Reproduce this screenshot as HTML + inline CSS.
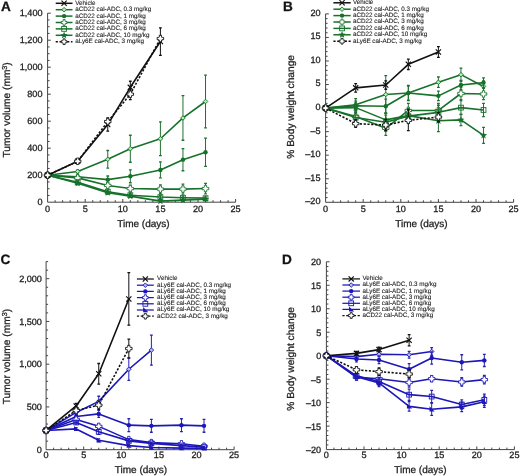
<!DOCTYPE html>
<html><head><meta charset="utf-8"><title>Figure</title>
<style>html,body{margin:0;padding:0;background:#fff;width:520px;height:476px;overflow:hidden;}svg{display:block;will-change:transform;}</style>
</head><body>
<svg width="520" height="476" viewBox="0 0 520 476" font-family='"Liberation Sans", sans-serif' fill="#222">
<style>text{stroke:#222;stroke-width:0.28px;paint-order:stroke;text-rendering:geometricPrecision;} .lg{stroke-width:0.1px;}</style>
<rect width="520" height="476" fill="#fff"/>
<path d="M47.6 13.2V202.2H235.6" stroke="#444" stroke-width="1" fill="none"/>
<path d="M55.12 202.2v-2M62.64 202.2v-2M70.16 202.2v-2M77.68 202.2v-2M85.2 202.2v-3.2M92.72 202.2v-2M100.24 202.2v-2M107.76 202.2v-2M115.28 202.2v-2M122.8 202.2v-3.2M130.32 202.2v-2M137.84 202.2v-2M145.36 202.2v-2M152.88 202.2v-2M160.4 202.2v-3.2M167.92 202.2v-2M175.44 202.2v-2M182.96 202.2v-2M190.48 202.2v-2M198 202.2v-3.2M205.52 202.2v-2M213.04 202.2v-2M220.56 202.2v-2M228.08 202.2v-2M235.6 202.2v-3.2M47.6 195.45h2M47.6 188.7h2M47.6 181.95h2M47.6 175.2h3.2M47.6 168.45h2M47.6 161.7h2M47.6 154.95h2M47.6 148.2h3.2M47.6 141.45h2M47.6 134.7h2M47.6 127.95h2M47.6 121.2h3.2M47.6 114.45h2M47.6 107.7h2M47.6 100.95h2M47.6 94.2h3.2M47.6 87.45h2M47.6 80.7h2M47.6 73.95h2M47.6 67.2h3.2M47.6 60.45h2M47.6 53.7h2M47.6 46.95h2M47.6 40.2h3.2M47.6 33.45h2M47.6 26.7h2M47.6 19.95h2M47.6 13.2h3.2" stroke="#444" stroke-width="1" fill="none"/>
<text x="47.6" y="212.1" text-anchor="middle" font-size="9.1">0</text>
<text x="85.2" y="212.1" text-anchor="middle" font-size="9.1">5</text>
<text x="122.8" y="212.1" text-anchor="middle" font-size="9.1">10</text>
<text x="160.4" y="212.1" text-anchor="middle" font-size="9.1">15</text>
<text x="198" y="212.1" text-anchor="middle" font-size="9.1">20</text>
<text x="235.6" y="212.1" text-anchor="middle" font-size="9.1">25</text>
<text x="42.5" y="205.3" text-anchor="end" font-size="9.1">0</text>
<text x="42.5" y="178.3" text-anchor="end" font-size="9.1">200</text>
<text x="42.5" y="151.3" text-anchor="end" font-size="9.1">400</text>
<text x="42.5" y="124.3" text-anchor="end" font-size="9.1">600</text>
<text x="42.5" y="97.3" text-anchor="end" font-size="9.1">800</text>
<text x="42.5" y="70.3" text-anchor="end" font-size="9.1">1,000</text>
<text x="42.5" y="43.3" text-anchor="end" font-size="9.1">1,200</text>
<text x="42.5" y="16.3" text-anchor="end" font-size="9.1">1,400</text>
<text x="1.0" y="11.0" font-size="13.6" font-weight="bold" fill="#111">A</text>
<text x="143.4" y="226.8" text-anchor="middle" font-size="10">Time (days)</text>
<text transform="translate(10.2 109.9) rotate(-90)" text-anchor="middle" font-size="10.2">Tumor volume (mm<tspan font-size="7.2" dy="-2.9">3</tspan><tspan dy="2.9">)</tspan></text>
<path d="M77.68 169.8V173.04" stroke="#22702f" stroke-width="1" fill="none"/>
<path d="M76.28 169.8H79.08M76.28 173.04H79.08" stroke="#22702f" stroke-width="1.3" fill="none"/>
<path d="M107.76 150.5V168.04" stroke="#22702f" stroke-width="1" fill="none"/>
<path d="M106.36 150.5H109.16M106.36 168.04H109.16" stroke="#22702f" stroke-width="1.3" fill="none"/>
<path d="M130.32 135.24V162.24" stroke="#22702f" stroke-width="1" fill="none"/>
<path d="M128.92 135.24H131.72M128.92 162.24H131.72" stroke="#22702f" stroke-width="1.3" fill="none"/>
<path d="M160.4 121.87V155.62" stroke="#22702f" stroke-width="1" fill="none"/>
<path d="M159 121.87H161.8M159 155.62H161.8" stroke="#22702f" stroke-width="1.3" fill="none"/>
<path d="M182.96 95.68V140.23" stroke="#22702f" stroke-width="1" fill="none"/>
<path d="M181.56 95.68H184.36M181.56 140.23H184.36" stroke="#22702f" stroke-width="1.3" fill="none"/>
<path d="M205.52 75.16V127.81" stroke="#22702f" stroke-width="1" fill="none"/>
<path d="M204.12 75.16H206.92M204.12 127.81H206.92" stroke="#22702f" stroke-width="1.3" fill="none"/>
<path d="M47.6 175.2L77.68 171.42L107.76 159.27L130.32 148.74L160.4 138.75L182.96 117.96L205.52 101.49" stroke="#16712a" stroke-width="1.6" fill="none" stroke-linejoin="round"/>
<path d="M47.6 172.9L49.9 175.2L47.6 177.5L45.3 175.2Z" fill="#b4ecb4" stroke="#16712a" stroke-width="0.9"/>
<path d="M77.68 169.12L79.98 171.42L77.68 173.72L75.38 171.42Z" fill="#b4ecb4" stroke="#16712a" stroke-width="0.9"/>
<path d="M107.76 156.97L110.06 159.27L107.76 161.57L105.46 159.27Z" fill="#b4ecb4" stroke="#16712a" stroke-width="0.9"/>
<path d="M130.32 146.44L132.62 148.74L130.32 151.04L128.02 148.74Z" fill="#b4ecb4" stroke="#16712a" stroke-width="0.9"/>
<path d="M160.4 136.45L162.7 138.75L160.4 141.05L158.1 138.75Z" fill="#b4ecb4" stroke="#16712a" stroke-width="0.9"/>
<path d="M182.96 115.66L185.26 117.96L182.96 120.26L180.66 117.96Z" fill="#b4ecb4" stroke="#16712a" stroke-width="0.9"/>
<path d="M205.52 99.19L207.82 101.49L205.52 103.79L203.22 101.49Z" fill="#b4ecb4" stroke="#16712a" stroke-width="0.9"/>
<path d="M77.68 174.79V178.84" stroke="#22702f" stroke-width="1" fill="none"/>
<path d="M76.28 174.79H79.08M76.28 178.84H79.08" stroke="#22702f" stroke-width="1.3" fill="none"/>
<path d="M107.76 176.01V183.3" stroke="#22702f" stroke-width="1" fill="none"/>
<path d="M106.36 176.01H109.16M106.36 183.3H109.16" stroke="#22702f" stroke-width="1.3" fill="none"/>
<path d="M130.32 169.8V182.76" stroke="#22702f" stroke-width="1" fill="none"/>
<path d="M128.92 169.8H131.72M128.92 182.76H131.72" stroke="#22702f" stroke-width="1.3" fill="none"/>
<path d="M160.4 161.97V177.9" stroke="#22702f" stroke-width="1" fill="none"/>
<path d="M159 161.97H161.8M159 177.9H161.8" stroke="#22702f" stroke-width="1.3" fill="none"/>
<path d="M182.96 148.6V170.75" stroke="#22702f" stroke-width="1" fill="none"/>
<path d="M181.56 148.6H184.36M181.56 170.75H184.36" stroke="#22702f" stroke-width="1.3" fill="none"/>
<path d="M205.52 138.07V166.42" stroke="#22702f" stroke-width="1" fill="none"/>
<path d="M204.12 138.07H206.92M204.12 166.42H206.92" stroke="#22702f" stroke-width="1.3" fill="none"/>
<path d="M47.6 175.2L77.68 176.82L107.76 179.65L130.32 176.28L160.4 169.94L182.96 159.67L205.52 152.25" stroke="#16712a" stroke-width="1.6" fill="none" stroke-linejoin="round"/>
<circle cx="47.6" cy="175.2" r="2.2" fill="#16712a"/>
<circle cx="77.68" cy="176.82" r="2.2" fill="#16712a"/>
<circle cx="107.76" cy="179.65" r="2.2" fill="#16712a"/>
<circle cx="130.32" cy="176.28" r="2.2" fill="#16712a"/>
<circle cx="160.4" cy="169.94" r="2.2" fill="#16712a"/>
<circle cx="182.96" cy="159.67" r="2.2" fill="#16712a"/>
<circle cx="205.52" cy="152.25" r="2.2" fill="#16712a"/>
<path d="M77.68 176.28V179.52" stroke="#22702f" stroke-width="1" fill="none"/>
<path d="M76.28 176.28H79.08M76.28 179.52H79.08" stroke="#22702f" stroke-width="1.3" fill="none"/>
<path d="M107.76 182.76V188.16" stroke="#22702f" stroke-width="1" fill="none"/>
<path d="M106.36 182.76H109.16M106.36 188.16H109.16" stroke="#22702f" stroke-width="1.3" fill="none"/>
<path d="M130.32 185.19V191.94" stroke="#22702f" stroke-width="1" fill="none"/>
<path d="M128.92 185.19H131.72M128.92 191.94H131.72" stroke="#22702f" stroke-width="1.3" fill="none"/>
<path d="M160.4 184.92V193.29" stroke="#22702f" stroke-width="1" fill="none"/>
<path d="M159 184.92H161.8M159 193.29H161.8" stroke="#22702f" stroke-width="1.3" fill="none"/>
<path d="M182.96 184.11V194.1" stroke="#22702f" stroke-width="1" fill="none"/>
<path d="M181.56 184.11H184.36M181.56 194.1H184.36" stroke="#22702f" stroke-width="1.3" fill="none"/>
<path d="M205.52 183.3V193.83" stroke="#22702f" stroke-width="1" fill="none"/>
<path d="M204.12 183.3H206.92M204.12 193.83H206.92" stroke="#22702f" stroke-width="1.3" fill="none"/>
<path d="M47.6 175.2L77.68 177.9L107.76 185.46L130.32 188.56L160.4 189.1L182.96 189.1L205.52 188.56" stroke="#16712a" stroke-width="1.6" fill="none" stroke-linejoin="round"/>
<path d="M46.45 171.95L48.75 171.95L48.75 173.5Q48.75 174.05 49.3 174.05L50.85 174.05L50.85 176.35L49.3 176.35Q48.75 176.35 48.75 176.9L48.75 178.45L46.45 178.45L46.45 176.9Q46.45 176.35 45.9 176.35L44.35 176.35L44.35 174.05L45.9 174.05Q46.45 174.05 46.45 173.5Z" fill="#fff" stroke="#16712a" stroke-width="0.9" stroke-linejoin="round"/>
<path d="M76.53 174.65L78.83 174.65L78.83 176.2Q78.83 176.75 79.38 176.75L80.93 176.75L80.93 179.05L79.38 179.05Q78.83 179.05 78.83 179.6L78.83 181.15L76.53 181.15L76.53 179.6Q76.53 179.05 75.98 179.05L74.43 179.05L74.43 176.75L75.98 176.75Q76.53 176.75 76.53 176.2Z" fill="#fff" stroke="#16712a" stroke-width="0.9" stroke-linejoin="round"/>
<path d="M106.61 182.21L108.91 182.21L108.91 183.76Q108.91 184.31 109.46 184.31L111.01 184.31L111.01 186.61L109.46 186.61Q108.91 186.61 108.91 187.16L108.91 188.71L106.61 188.71L106.61 187.16Q106.61 186.61 106.06 186.61L104.51 186.61L104.51 184.31L106.06 184.31Q106.61 184.31 106.61 183.76Z" fill="#fff" stroke="#16712a" stroke-width="0.9" stroke-linejoin="round"/>
<path d="M129.17 185.31L131.47 185.31L131.47 186.86Q131.47 187.41 132.02 187.41L133.57 187.41L133.57 189.72L132.02 189.72Q131.47 189.72 131.47 190.27L131.47 191.81L129.17 191.81L129.17 190.27Q129.17 189.72 128.62 189.72L127.07 189.72L127.07 187.41L128.62 187.41Q129.17 187.41 129.17 186.86Z" fill="#fff" stroke="#16712a" stroke-width="0.9" stroke-linejoin="round"/>
<path d="M159.25 185.85L161.55 185.85L161.55 187.4Q161.55 187.95 162.1 187.95L163.65 187.95L163.65 190.25L162.1 190.25Q161.55 190.25 161.55 190.81L161.55 192.35L159.25 192.35L159.25 190.81Q159.25 190.25 158.7 190.25L157.15 190.25L157.15 187.95L158.7 187.95Q159.25 187.95 159.25 187.4Z" fill="#fff" stroke="#16712a" stroke-width="0.9" stroke-linejoin="round"/>
<path d="M181.81 185.85L184.11 185.85L184.11 187.4Q184.11 187.95 184.66 187.95L186.21 187.95L186.21 190.25L184.66 190.25Q184.11 190.25 184.11 190.81L184.11 192.35L181.81 192.35L181.81 190.81Q181.81 190.25 181.26 190.25L179.71 190.25L179.71 187.95L181.26 187.95Q181.81 187.95 181.81 187.4Z" fill="#fff" stroke="#16712a" stroke-width="0.9" stroke-linejoin="round"/>
<path d="M204.37 185.31L206.67 185.31L206.67 186.86Q206.67 187.41 207.22 187.41L208.77 187.41L208.77 189.72L207.22 189.72Q206.67 189.72 206.67 190.27L206.67 191.81L204.37 191.81L204.37 190.27Q204.37 189.72 203.82 189.72L202.27 189.72L202.27 187.41L203.82 187.41Q204.37 187.41 204.37 186.86Z" fill="#fff" stroke="#16712a" stroke-width="0.9" stroke-linejoin="round"/>
<path d="M77.68 180.87V183.57" stroke="#22702f" stroke-width="1" fill="none"/>
<path d="M76.28 180.87H79.08M76.28 183.57H79.08" stroke="#22702f" stroke-width="1.3" fill="none"/>
<path d="M107.76 190.05V193.29" stroke="#22702f" stroke-width="1" fill="none"/>
<path d="M106.36 190.05H109.16M106.36 193.29H109.16" stroke="#22702f" stroke-width="1.3" fill="none"/>
<path d="M130.32 193.56V196.8" stroke="#22702f" stroke-width="1" fill="none"/>
<path d="M128.92 193.56H131.72M128.92 196.8H131.72" stroke="#22702f" stroke-width="1.3" fill="none"/>
<path d="M160.4 195.45V198.69" stroke="#22702f" stroke-width="1" fill="none"/>
<path d="M159 195.45H161.8M159 198.69H161.8" stroke="#22702f" stroke-width="1.3" fill="none"/>
<path d="M182.96 196.12V199.36" stroke="#22702f" stroke-width="1" fill="none"/>
<path d="M181.56 196.12H184.36M181.56 199.36H184.36" stroke="#22702f" stroke-width="1.3" fill="none"/>
<path d="M205.52 196.8V199.5" stroke="#22702f" stroke-width="1" fill="none"/>
<path d="M204.12 196.8H206.92M204.12 199.5H206.92" stroke="#22702f" stroke-width="1.3" fill="none"/>
<path d="M47.6 175.2L77.68 182.22L107.76 191.67L130.32 195.18L160.4 197.07L182.96 197.74L205.52 198.15" stroke="#16712a" stroke-width="1.6" fill="none" stroke-linejoin="round"/>
<rect x="45.2" y="172.8" width="4.8" height="4.8" fill="none" stroke="#16712a" stroke-width="0.9"/>
<rect x="75.28" y="179.82" width="4.8" height="4.8" fill="none" stroke="#16712a" stroke-width="0.9"/>
<rect x="105.36" y="189.27" width="4.8" height="4.8" fill="none" stroke="#16712a" stroke-width="0.9"/>
<rect x="127.92" y="192.78" width="4.8" height="4.8" fill="none" stroke="#16712a" stroke-width="0.9"/>
<rect x="158" y="194.67" width="4.8" height="4.8" fill="none" stroke="#16712a" stroke-width="0.9"/>
<rect x="180.56" y="195.34" width="4.8" height="4.8" fill="none" stroke="#16712a" stroke-width="0.9"/>
<rect x="203.12" y="195.75" width="4.8" height="4.8" fill="none" stroke="#16712a" stroke-width="0.9"/>
<path d="M77.68 181.95V184.65" stroke="#22702f" stroke-width="1" fill="none"/>
<path d="M76.28 181.95H79.08M76.28 184.65H79.08" stroke="#22702f" stroke-width="1.3" fill="none"/>
<path d="M107.76 191.4V194.1" stroke="#22702f" stroke-width="1" fill="none"/>
<path d="M106.36 191.4H109.16M106.36 194.1H109.16" stroke="#22702f" stroke-width="1.3" fill="none"/>
<path d="M130.32 194.77V197.47" stroke="#22702f" stroke-width="1" fill="none"/>
<path d="M128.92 194.77H131.72M128.92 197.47H131.72" stroke="#22702f" stroke-width="1.3" fill="none"/>
<path d="M160.4 200.04V202.2" stroke="#22702f" stroke-width="1" fill="none"/>
<path d="M159 200.04H161.8M159 202.2H161.8" stroke="#22702f" stroke-width="1.3" fill="none"/>
<path d="M182.96 199.09V201.25" stroke="#22702f" stroke-width="1" fill="none"/>
<path d="M181.56 199.09H184.36M181.56 201.25H184.36" stroke="#22702f" stroke-width="1.3" fill="none"/>
<path d="M205.52 198.15V200.31" stroke="#22702f" stroke-width="1" fill="none"/>
<path d="M204.12 198.15H206.92M204.12 200.31H206.92" stroke="#22702f" stroke-width="1.3" fill="none"/>
<path d="M47.6 175.2L77.68 183.3L107.76 192.75L130.32 196.12L160.4 201.12L182.96 200.17L205.52 199.23" stroke="#16712a" stroke-width="1.6" fill="none" stroke-linejoin="round"/>
<polygon points="47.6,171.4 48.54,173.91 51.21,174.03 49.12,175.69 49.83,178.27 47.6,176.8 45.37,178.27 46.08,175.69 43.99,174.03 46.66,173.91" fill="#16712a"/>
<polygon points="77.68,179.5 78.62,182.01 81.29,182.13 79.2,183.79 79.91,186.37 77.68,184.9 75.45,186.37 76.16,183.79 74.07,182.13 76.74,182.01" fill="#16712a"/>
<polygon points="107.76,188.95 108.7,191.46 111.37,191.58 109.28,193.24 109.99,195.82 107.76,194.35 105.53,195.82 106.24,193.24 104.15,191.58 106.82,191.46" fill="#16712a"/>
<polygon points="130.32,192.32 131.26,194.83 133.93,194.95 131.84,196.62 132.55,199.2 130.32,197.72 128.09,199.2 128.8,196.62 126.71,194.95 129.38,194.83" fill="#16712a"/>
<polygon points="160.4,197.32 161.34,199.83 164.01,199.95 161.92,201.61 162.63,204.19 160.4,202.72 158.17,204.19 158.88,201.61 156.79,199.95 159.46,199.83" fill="#16712a"/>
<polygon points="182.96,196.37 183.9,198.88 186.57,199 184.48,200.67 185.19,203.25 182.96,201.77 180.73,203.25 181.44,200.67 179.35,199 182.02,198.88" fill="#16712a"/>
<polygon points="205.52,195.43 206.46,197.94 209.13,198.06 207.04,199.72 207.75,202.3 205.52,200.83 203.29,202.3 204,199.72 201.91,198.06 204.58,197.94" fill="#16712a"/>
<path d="M77.68 159.67V162.91" stroke="#111" stroke-width="1" fill="none"/>
<path d="M76.28 159.67H79.08M76.28 162.91H79.08" stroke="#111" stroke-width="1.3" fill="none"/>
<path d="M107.76 117.96V131.19" stroke="#111" stroke-width="1" fill="none"/>
<path d="M106.36 117.96H109.16M106.36 131.19H109.16" stroke="#111" stroke-width="1.3" fill="none"/>
<path d="M130.32 81.24V93.39" stroke="#111" stroke-width="1" fill="none"/>
<path d="M128.92 81.24H131.72M128.92 93.39H131.72" stroke="#111" stroke-width="1.3" fill="none"/>
<path d="M160.4 27.78V55.32" stroke="#111" stroke-width="1" fill="none"/>
<path d="M159 27.78H161.8M159 55.32H161.8" stroke="#111" stroke-width="1.3" fill="none"/>
<path d="M47.6 175.2L77.68 161.29L107.76 124.57L130.32 87.31L160.4 41.55" stroke="#111" stroke-width="1.6" fill="none" stroke-linejoin="round"/>
<path d="M45 172.6L50.2 177.8M45 177.8L50.2 172.6" stroke="#111" stroke-width="1.2" fill="none"/>
<path d="M75.08 158.69L80.28 163.89M75.08 163.89L80.28 158.69" stroke="#111" stroke-width="1.2" fill="none"/>
<path d="M105.16 121.97L110.36 127.17M105.16 127.17L110.36 121.97" stroke="#111" stroke-width="1.2" fill="none"/>
<path d="M127.72 84.71L132.92 89.91M127.72 89.91L132.92 84.71" stroke="#111" stroke-width="1.2" fill="none"/>
<path d="M157.8 38.95L163 44.15M157.8 44.15L163 38.95" stroke="#111" stroke-width="1.2" fill="none"/>
<path d="M77.68 159.94V162.64" stroke="#111" stroke-width="1" fill="none"/>
<path d="M76.28 159.94H79.08M76.28 162.64H79.08" stroke="#111" stroke-width="1.3" fill="none"/>
<path d="M107.76 120.25V122.95" stroke="#111" stroke-width="1" fill="none"/>
<path d="M106.36 120.25H109.16M106.36 122.95H109.16" stroke="#111" stroke-width="1.3" fill="none"/>
<path d="M130.32 88.8V99.6" stroke="#111" stroke-width="1" fill="none"/>
<path d="M128.92 88.8H131.72M128.92 99.6H131.72" stroke="#111" stroke-width="1.3" fill="none"/>
<path d="M160.4 35.88V41.28" stroke="#111" stroke-width="1" fill="none"/>
<path d="M159 35.88H161.8M159 41.28H161.8" stroke="#111" stroke-width="1.3" fill="none"/>
<path d="M47.6 175.2L77.68 161.29L107.76 121.6L130.32 94.2L160.4 38.58" stroke="#111" stroke-width="1.6" fill="none" stroke-linejoin="round" stroke-dasharray="2.2 1.6"/>
<path d="M46.45 171.95L48.75 171.95L48.75 173.5Q48.75 174.05 49.3 174.05L50.85 174.05L50.85 176.35L49.3 176.35Q48.75 176.35 48.75 176.9L48.75 178.45L46.45 178.45L46.45 176.9Q46.45 176.35 45.9 176.35L44.35 176.35L44.35 174.05L45.9 174.05Q46.45 174.05 46.45 173.5Z" fill="#fff" stroke="#111" stroke-width="0.9" stroke-linejoin="round"/>
<path d="M76.53 158.04L78.83 158.04L78.83 159.59Q78.83 160.14 79.38 160.14L80.93 160.14L80.93 162.44L79.38 162.44Q78.83 162.44 78.83 163L78.83 164.54L76.53 164.54L76.53 163Q76.53 162.44 75.98 162.44L74.43 162.44L74.43 160.14L75.98 160.14Q76.53 160.14 76.53 159.59Z" fill="#fff" stroke="#111" stroke-width="0.9" stroke-linejoin="round"/>
<path d="M106.61 118.35L108.91 118.35L108.91 119.9Q108.91 120.45 109.46 120.45L111.01 120.45L111.01 122.75L109.46 122.75Q108.91 122.75 108.91 123.3L108.91 124.85L106.61 124.85L106.61 123.3Q106.61 122.75 106.06 122.75L104.51 122.75L104.51 120.45L106.06 120.45Q106.61 120.45 106.61 119.9Z" fill="#fff" stroke="#111" stroke-width="0.9" stroke-linejoin="round"/>
<path d="M129.17 90.95L131.47 90.95L131.47 92.5Q131.47 93.05 132.02 93.05L133.57 93.05L133.57 95.35L132.02 95.35Q131.47 95.35 131.47 95.9L131.47 97.45L129.17 97.45L129.17 95.9Q129.17 95.35 128.62 95.35L127.07 95.35L127.07 93.05L128.62 93.05Q129.17 93.05 129.17 92.5Z" fill="#fff" stroke="#111" stroke-width="0.9" stroke-linejoin="round"/>
<path d="M159.25 35.33L161.55 35.33L161.55 36.88Q161.55 37.43 162.1 37.43L163.65 37.43L163.65 39.73L162.1 39.73Q161.55 39.73 161.55 40.28L161.55 41.83L159.25 41.83L159.25 40.28Q159.25 39.73 158.7 39.73L157.15 39.73L157.15 37.43L158.7 37.43Q159.25 37.43 159.25 36.88Z" fill="#fff" stroke="#111" stroke-width="0.9" stroke-linejoin="round"/>
<path d="M55.7 3.3H72.5" stroke="#111" stroke-width="1.5"/>
<path d="M61.5 0.7L66.7 5.9M61.5 5.9L66.7 0.7" stroke="#111" stroke-width="1.2" fill="none"/>
<text class="lg" x="75.2" y="4.7" font-size="6.3">Vehicle</text>
<path d="M55.7 9.7H72.5" stroke="#16712a" stroke-width="1.5"/>
<path d="M64.1 7.4L66.4 9.7L64.1 12L61.8 9.7Z" fill="#b4ecb4" stroke="#16712a" stroke-width="0.9"/>
<text class="lg" x="75.2" y="11.1" font-size="6.3">aCD22 cal-ADC, 0.3 mg/kg</text>
<path d="M55.7 16.1H72.5" stroke="#16712a" stroke-width="1.5"/>
<circle cx="64.1" cy="16.1" r="2.2" fill="#16712a"/>
<text class="lg" x="75.2" y="17.5" font-size="6.3">aCD22 cal-ADC, 1 mg/kg</text>
<path d="M55.7 22.5H72.5" stroke="#16712a" stroke-width="1.5"/>
<path d="M63.09 19.64L65.11 19.64L65.11 21Q65.11 21.49 65.6 21.49L66.96 21.49L66.96 23.51L65.6 23.51Q65.11 23.51 65.11 24L65.11 25.36L63.09 25.36L63.09 24Q63.09 23.51 62.6 23.51L61.24 23.51L61.24 21.49L62.6 21.49Q63.09 21.49 63.09 21Z" fill="#fff" stroke="#16712a" stroke-width="0.9" stroke-linejoin="round"/>
<text class="lg" x="75.2" y="23.9" font-size="6.3">aCD22 cal-ADC, 3 mg/kg</text>
<path d="M55.7 28.9H72.5" stroke="#16712a" stroke-width="1.5"/>
<rect x="61.7" y="26.5" width="4.8" height="4.8" fill="none" stroke="#16712a" stroke-width="0.9"/>
<text class="lg" x="75.2" y="30.3" font-size="6.3">aCD22 cal-ADC, 6 mg/kg</text>
<path d="M55.7 35.3H72.5" stroke="#16712a" stroke-width="1.5"/>
<polygon points="64.1,31.5 65.04,34.01 67.71,34.13 65.62,35.79 66.33,38.37 64.1,36.9 61.87,38.37 62.58,35.79 60.49,34.13 63.16,34.01" fill="#16712a"/>
<text class="lg" x="75.2" y="36.7" font-size="6.3">aCD22 cal-ADC, 10 mg/kg</text>
<path d="M55.7 41.7H72.5" stroke="#111" stroke-width="1.5" stroke-dasharray="2.2 1.6"/>
<path d="M63.09 38.84L65.11 38.84L65.11 40.2Q65.11 40.69 65.6 40.69L66.96 40.69L66.96 42.71L65.6 42.71Q65.11 42.71 65.11 43.2L65.11 44.56L63.09 44.56L63.09 43.2Q63.09 42.71 62.6 42.71L61.24 42.71L61.24 40.69L62.6 40.69Q63.09 40.69 63.09 40.2Z" fill="#fff" stroke="#111" stroke-width="0.9" stroke-linejoin="round"/>
<text class="lg" x="75.2" y="43.1" font-size="6.3">aLy6E cal-ADC, 3 mg/kg</text>
<path d="M325.6 13.9V202.3H513.6" stroke="#444" stroke-width="1" fill="none"/>
<path d="M333.12 202.3v-2M340.64 202.3v-2M348.16 202.3v-2M355.68 202.3v-2M363.2 202.3v-3.2M370.72 202.3v-2M378.24 202.3v-2M385.76 202.3v-2M393.28 202.3v-2M400.8 202.3v-3.2M408.32 202.3v-2M415.84 202.3v-2M423.36 202.3v-2M430.88 202.3v-2M438.4 202.3v-3.2M445.92 202.3v-2M453.44 202.3v-2M460.96 202.3v-2M468.48 202.3v-2M476 202.3v-3.2M483.52 202.3v-2M491.04 202.3v-2M498.56 202.3v-2M506.08 202.3v-2M513.6 202.3v-3.2M325.6 197.59h2M325.6 192.88h2M325.6 188.17h2M325.6 183.46h2M325.6 178.75h3.2M325.6 174.04h2M325.6 169.33h2M325.6 164.62h2M325.6 159.91h2M325.6 155.2h3.2M325.6 150.49h2M325.6 145.78h2M325.6 141.07h2M325.6 136.36h2M325.6 131.65h3.2M325.6 126.94h2M325.6 122.23h2M325.6 117.52h2M325.6 112.81h2M325.6 108.1h3.2M325.6 103.39h2M325.6 98.68h2M325.6 93.97h2M325.6 89.26h2M325.6 84.55h3.2M325.6 79.84h2M325.6 75.13h2M325.6 70.42h2M325.6 65.71h2M325.6 61h3.2M325.6 56.29h2M325.6 51.58h2M325.6 46.87h2M325.6 42.16h2M325.6 37.45h3.2M325.6 32.74h2M325.6 28.03h2M325.6 23.32h2M325.6 18.61h2M325.6 13.9h3.2" stroke="#444" stroke-width="1" fill="none"/>
<text x="325.6" y="212.1" text-anchor="middle" font-size="9.1">0</text>
<text x="363.2" y="212.1" text-anchor="middle" font-size="9.1">5</text>
<text x="400.8" y="212.1" text-anchor="middle" font-size="9.1">10</text>
<text x="438.4" y="212.1" text-anchor="middle" font-size="9.1">15</text>
<text x="476" y="212.1" text-anchor="middle" font-size="9.1">20</text>
<text x="513.6" y="212.1" text-anchor="middle" font-size="9.1">25</text>
<text x="320.5" y="204.2" text-anchor="end" font-size="9.1">–20</text>
<text x="320.5" y="180.65" text-anchor="end" font-size="9.1">–15</text>
<text x="320.5" y="157.1" text-anchor="end" font-size="9.1">–10</text>
<text x="320.5" y="133.55" text-anchor="end" font-size="9.1">–5</text>
<text x="320.5" y="110" text-anchor="end" font-size="9.1">0</text>
<text x="320.5" y="86.45" text-anchor="end" font-size="9.1">5</text>
<text x="320.5" y="62.9" text-anchor="end" font-size="9.1">10</text>
<text x="320.5" y="39.35" text-anchor="end" font-size="9.1">15</text>
<text x="320.5" y="15.8" text-anchor="end" font-size="9.1">20</text>
<text x="283.1" y="11.0" font-size="13.6" font-weight="bold" fill="#111">B</text>
<text x="421.5" y="226.8" text-anchor="middle" font-size="10">Time (days)</text>
<text transform="translate(293.6 106.8) rotate(-90)" text-anchor="middle" font-size="10.2">% Body weight change</text>
<path d="M355.68 98.68V110.93" stroke="#22702f" stroke-width="1" fill="none"/>
<path d="M354.28 98.68H357.08M354.28 110.93H357.08" stroke="#22702f" stroke-width="1.3" fill="none"/>
<path d="M385.76 75.6V113.28" stroke="#22702f" stroke-width="1" fill="none"/>
<path d="M384.36 75.6H387.16M384.36 113.28H387.16" stroke="#22702f" stroke-width="1.3" fill="none"/>
<path d="M408.32 85.96V100.09" stroke="#22702f" stroke-width="1" fill="none"/>
<path d="M406.92 85.96H409.72M406.92 100.09H409.72" stroke="#22702f" stroke-width="1.3" fill="none"/>
<path d="M438.4 77.01V87.38" stroke="#22702f" stroke-width="1" fill="none"/>
<path d="M437 77.01H439.8M437 87.38H439.8" stroke="#22702f" stroke-width="1.3" fill="none"/>
<path d="M460.96 68.06V81.25" stroke="#22702f" stroke-width="1" fill="none"/>
<path d="M459.56 68.06H462.36M459.56 81.25H462.36" stroke="#22702f" stroke-width="1.3" fill="none"/>
<path d="M483.52 80.78V92.09" stroke="#22702f" stroke-width="1" fill="none"/>
<path d="M482.12 80.78H484.92M482.12 92.09H484.92" stroke="#22702f" stroke-width="1.3" fill="none"/>
<path d="M325.6 108.1L355.68 104.8L385.76 94.44L408.32 93.03L438.4 82.2L460.96 74.66L483.52 86.43" stroke="#16712a" stroke-width="1.6" fill="none" stroke-linejoin="round"/>
<path d="M325.6 105.8L327.9 108.1L325.6 110.4L323.3 108.1Z" fill="#b4ecb4" stroke="#16712a" stroke-width="0.9"/>
<path d="M355.68 102.5L357.98 104.8L355.68 107.1L353.38 104.8Z" fill="#b4ecb4" stroke="#16712a" stroke-width="0.9"/>
<path d="M385.76 92.14L388.06 94.44L385.76 96.74L383.46 94.44Z" fill="#b4ecb4" stroke="#16712a" stroke-width="0.9"/>
<path d="M408.32 90.73L410.62 93.03L408.32 95.33L406.02 93.03Z" fill="#b4ecb4" stroke="#16712a" stroke-width="0.9"/>
<path d="M438.4 79.9L440.7 82.2L438.4 84.5L436.1 82.2Z" fill="#b4ecb4" stroke="#16712a" stroke-width="0.9"/>
<path d="M460.96 72.36L463.26 74.66L460.96 76.96L458.66 74.66Z" fill="#b4ecb4" stroke="#16712a" stroke-width="0.9"/>
<path d="M483.52 84.13L485.82 86.43L483.52 88.73L481.22 86.43Z" fill="#b4ecb4" stroke="#16712a" stroke-width="0.9"/>
<path d="M355.68 101.04V110.46" stroke="#22702f" stroke-width="1" fill="none"/>
<path d="M354.28 101.04H357.08M354.28 110.46H357.08" stroke="#22702f" stroke-width="1.3" fill="none"/>
<path d="M385.76 99.15V113.28" stroke="#22702f" stroke-width="1" fill="none"/>
<path d="M384.36 99.15H387.16M384.36 113.28H387.16" stroke="#22702f" stroke-width="1.3" fill="none"/>
<path d="M408.32 85.49V100.56" stroke="#22702f" stroke-width="1" fill="none"/>
<path d="M406.92 85.49H409.72M406.92 100.56H409.72" stroke="#22702f" stroke-width="1.3" fill="none"/>
<path d="M438.4 91.14V100.56" stroke="#22702f" stroke-width="1" fill="none"/>
<path d="M437 91.14H439.8M437 100.56H439.8" stroke="#22702f" stroke-width="1.3" fill="none"/>
<path d="M460.96 80.31V89.73" stroke="#22702f" stroke-width="1" fill="none"/>
<path d="M459.56 80.31H462.36M459.56 89.73H462.36" stroke="#22702f" stroke-width="1.3" fill="none"/>
<path d="M483.52 77.96V87.38" stroke="#22702f" stroke-width="1" fill="none"/>
<path d="M482.12 77.96H484.92M482.12 87.38H484.92" stroke="#22702f" stroke-width="1.3" fill="none"/>
<path d="M325.6 108.1L355.68 105.75L385.76 106.22L408.32 93.03L438.4 95.85L460.96 85.02L483.52 82.67" stroke="#16712a" stroke-width="1.6" fill="none" stroke-linejoin="round"/>
<circle cx="325.6" cy="108.1" r="2.2" fill="#16712a"/>
<circle cx="355.68" cy="105.75" r="2.2" fill="#16712a"/>
<circle cx="385.76" cy="106.22" r="2.2" fill="#16712a"/>
<circle cx="408.32" cy="93.03" r="2.2" fill="#16712a"/>
<circle cx="438.4" cy="95.85" r="2.2" fill="#16712a"/>
<circle cx="460.96" cy="85.02" r="2.2" fill="#16712a"/>
<circle cx="483.52" cy="82.67" r="2.2" fill="#16712a"/>
<path d="M355.68 111.87V121.29" stroke="#22702f" stroke-width="1" fill="none"/>
<path d="M354.28 111.87H357.08M354.28 121.29H357.08" stroke="#22702f" stroke-width="1.3" fill="none"/>
<path d="M385.76 121.29V135.42" stroke="#22702f" stroke-width="1" fill="none"/>
<path d="M384.36 121.29H387.16M384.36 135.42H387.16" stroke="#22702f" stroke-width="1.3" fill="none"/>
<path d="M408.32 103.39V117.52" stroke="#22702f" stroke-width="1" fill="none"/>
<path d="M406.92 103.39H409.72M406.92 117.52H409.72" stroke="#22702f" stroke-width="1.3" fill="none"/>
<path d="M438.4 103.39V117.52" stroke="#22702f" stroke-width="1" fill="none"/>
<path d="M437 103.39H439.8M437 117.52H439.8" stroke="#22702f" stroke-width="1.3" fill="none"/>
<path d="M460.96 87.38V99.62" stroke="#22702f" stroke-width="1" fill="none"/>
<path d="M459.56 87.38H462.36M459.56 99.62H462.36" stroke="#22702f" stroke-width="1.3" fill="none"/>
<path d="M483.52 88.32V99.62" stroke="#22702f" stroke-width="1" fill="none"/>
<path d="M482.12 88.32H484.92M482.12 99.62H484.92" stroke="#22702f" stroke-width="1.3" fill="none"/>
<path d="M325.6 108.1L355.68 116.58L385.76 128.35L408.32 110.46L438.4 110.46L460.96 93.5L483.52 93.97" stroke="#16712a" stroke-width="1.6" fill="none" stroke-linejoin="round"/>
<path d="M324.45 104.85L326.75 104.85L326.75 106.4Q326.75 106.95 327.3 106.95L328.85 106.95L328.85 109.25L327.3 109.25Q326.75 109.25 326.75 109.8L326.75 111.35L324.45 111.35L324.45 109.8Q324.45 109.25 323.9 109.25L322.35 109.25L322.35 106.95L323.9 106.95Q324.45 106.95 324.45 106.4Z" fill="#fff" stroke="#16712a" stroke-width="0.9" stroke-linejoin="round"/>
<path d="M354.53 113.33L356.83 113.33L356.83 114.88Q356.83 115.43 357.38 115.43L358.93 115.43L358.93 117.73L357.38 117.73Q356.83 117.73 356.83 118.28L356.83 119.83L354.53 119.83L354.53 118.28Q354.53 117.73 353.98 117.73L352.43 117.73L352.43 115.43L353.98 115.43Q354.53 115.43 354.53 114.88Z" fill="#fff" stroke="#16712a" stroke-width="0.9" stroke-linejoin="round"/>
<path d="M384.61 125.1L386.91 125.1L386.91 126.65Q386.91 127.2 387.46 127.2L389.01 127.2L389.01 129.5L387.46 129.5Q386.91 129.5 386.91 130.05L386.91 131.6L384.61 131.6L384.61 130.05Q384.61 129.5 384.06 129.5L382.51 129.5L382.51 127.2L384.06 127.2Q384.61 127.2 384.61 126.65Z" fill="#fff" stroke="#16712a" stroke-width="0.9" stroke-linejoin="round"/>
<path d="M407.17 107.21L409.47 107.21L409.47 108.76Q409.47 109.31 410.02 109.31L411.57 109.31L411.57 111.61L410.02 111.61Q409.47 111.61 409.47 112.16L409.47 113.71L407.17 113.71L407.17 112.16Q407.17 111.61 406.62 111.61L405.07 111.61L405.07 109.31L406.62 109.31Q407.17 109.31 407.17 108.76Z" fill="#fff" stroke="#16712a" stroke-width="0.9" stroke-linejoin="round"/>
<path d="M437.25 107.21L439.55 107.21L439.55 108.76Q439.55 109.31 440.1 109.31L441.65 109.31L441.65 111.61L440.1 111.61Q439.55 111.61 439.55 112.16L439.55 113.71L437.25 113.71L437.25 112.16Q437.25 111.61 436.7 111.61L435.15 111.61L435.15 109.31L436.7 109.31Q437.25 109.31 437.25 108.76Z" fill="#fff" stroke="#16712a" stroke-width="0.9" stroke-linejoin="round"/>
<path d="M459.81 90.25L462.11 90.25L462.11 91.8Q462.11 92.35 462.66 92.35L464.21 92.35L464.21 94.65L462.66 94.65Q462.11 94.65 462.11 95.2L462.11 96.75L459.81 96.75L459.81 95.2Q459.81 94.65 459.26 94.65L457.71 94.65L457.71 92.35L459.26 92.35Q459.81 92.35 459.81 91.8Z" fill="#fff" stroke="#16712a" stroke-width="0.9" stroke-linejoin="round"/>
<path d="M482.37 90.72L484.67 90.72L484.67 92.27Q484.67 92.82 485.22 92.82L486.77 92.82L486.77 95.12L485.22 95.12Q484.67 95.12 484.67 95.67L484.67 97.22L482.37 97.22L482.37 95.67Q482.37 95.12 481.82 95.12L480.27 95.12L480.27 92.82L481.82 92.82Q482.37 92.82 482.37 92.27Z" fill="#fff" stroke="#16712a" stroke-width="0.9" stroke-linejoin="round"/>
<path d="M355.68 112.81V122.23" stroke="#22702f" stroke-width="1" fill="none"/>
<path d="M354.28 112.81H357.08M354.28 122.23H357.08" stroke="#22702f" stroke-width="1.3" fill="none"/>
<path d="M385.76 115.17V129.3" stroke="#22702f" stroke-width="1" fill="none"/>
<path d="M384.36 115.17H387.16M384.36 129.3H387.16" stroke="#22702f" stroke-width="1.3" fill="none"/>
<path d="M408.32 109.04V123.17" stroke="#22702f" stroke-width="1" fill="none"/>
<path d="M406.92 109.04H409.72M406.92 123.17H409.72" stroke="#22702f" stroke-width="1.3" fill="none"/>
<path d="M438.4 105.27V119.4" stroke="#22702f" stroke-width="1" fill="none"/>
<path d="M437 105.27H439.8M437 119.4H439.8" stroke="#22702f" stroke-width="1.3" fill="none"/>
<path d="M460.96 100.56V114.69" stroke="#22702f" stroke-width="1" fill="none"/>
<path d="M459.56 100.56H462.36M459.56 114.69H462.36" stroke="#22702f" stroke-width="1.3" fill="none"/>
<path d="M483.52 103.39V116.58" stroke="#22702f" stroke-width="1" fill="none"/>
<path d="M482.12 103.39H484.92M482.12 116.58H484.92" stroke="#22702f" stroke-width="1.3" fill="none"/>
<path d="M325.6 108.1L355.68 117.52L385.76 122.23L408.32 116.11L438.4 112.34L460.96 107.63L483.52 109.98" stroke="#16712a" stroke-width="1.6" fill="none" stroke-linejoin="round"/>
<rect x="323.2" y="105.7" width="4.8" height="4.8" fill="none" stroke="#16712a" stroke-width="0.9"/>
<rect x="353.28" y="115.12" width="4.8" height="4.8" fill="none" stroke="#16712a" stroke-width="0.9"/>
<rect x="383.36" y="119.83" width="4.8" height="4.8" fill="none" stroke="#16712a" stroke-width="0.9"/>
<rect x="405.92" y="113.71" width="4.8" height="4.8" fill="none" stroke="#16712a" stroke-width="0.9"/>
<rect x="436" y="109.94" width="4.8" height="4.8" fill="none" stroke="#16712a" stroke-width="0.9"/>
<rect x="458.56" y="105.23" width="4.8" height="4.8" fill="none" stroke="#16712a" stroke-width="0.9"/>
<rect x="481.12" y="107.58" width="4.8" height="4.8" fill="none" stroke="#16712a" stroke-width="0.9"/>
<path d="M355.68 102.92V112.34" stroke="#22702f" stroke-width="1" fill="none"/>
<path d="M354.28 102.92H357.08M354.28 112.34H357.08" stroke="#22702f" stroke-width="1.3" fill="none"/>
<path d="M385.76 112.81V126.94" stroke="#22702f" stroke-width="1" fill="none"/>
<path d="M384.36 112.81H387.16M384.36 126.94H387.16" stroke="#22702f" stroke-width="1.3" fill="none"/>
<path d="M408.32 108.57V122.7" stroke="#22702f" stroke-width="1" fill="none"/>
<path d="M406.92 108.57H409.72M406.92 122.7H409.72" stroke="#22702f" stroke-width="1.3" fill="none"/>
<path d="M438.4 109.98V131.65" stroke="#22702f" stroke-width="1" fill="none"/>
<path d="M437 109.98H439.8M437 131.65H439.8" stroke="#22702f" stroke-width="1.3" fill="none"/>
<path d="M460.96 114.22V125.53" stroke="#22702f" stroke-width="1" fill="none"/>
<path d="M459.56 114.22H462.36M459.56 125.53H462.36" stroke="#22702f" stroke-width="1.3" fill="none"/>
<path d="M483.52 127.41V143.43" stroke="#22702f" stroke-width="1" fill="none"/>
<path d="M482.12 127.41H484.92M482.12 143.43H484.92" stroke="#22702f" stroke-width="1.3" fill="none"/>
<path d="M325.6 108.1L355.68 107.63L385.76 119.88L408.32 115.64L438.4 120.82L460.96 119.88L483.52 135.42" stroke="#16712a" stroke-width="1.6" fill="none" stroke-linejoin="round"/>
<polygon points="325.6,104.3 326.54,106.81 329.21,106.93 327.12,108.59 327.83,111.17 325.6,109.7 323.37,111.17 324.08,108.59 321.99,106.93 324.66,106.81" fill="#16712a"/>
<polygon points="355.68,103.83 356.62,106.33 359.29,106.45 357.2,108.12 357.91,110.7 355.68,109.23 353.45,110.7 354.16,108.12 352.07,106.45 354.74,106.33" fill="#16712a"/>
<polygon points="385.76,116.08 386.7,118.58 389.37,118.7 387.28,120.37 387.99,122.95 385.76,121.48 383.53,122.95 384.24,120.37 382.15,118.7 384.82,118.58" fill="#16712a"/>
<polygon points="408.32,111.84 409.26,114.34 411.93,114.46 409.84,116.13 410.55,118.71 408.32,117.24 406.09,118.71 406.8,116.13 404.71,114.46 407.38,114.34" fill="#16712a"/>
<polygon points="438.4,117.02 439.34,119.52 442.01,119.64 439.92,121.31 440.63,123.89 438.4,122.42 436.17,123.89 436.88,121.31 434.79,119.64 437.46,119.52" fill="#16712a"/>
<polygon points="460.96,116.08 461.9,118.58 464.57,118.7 462.48,120.37 463.19,122.95 460.96,121.48 458.73,122.95 459.44,120.37 457.35,118.7 460.02,118.58" fill="#16712a"/>
<polygon points="483.52,131.62 484.46,134.12 487.13,134.24 485.04,135.91 485.75,138.49 483.52,137.02 481.29,138.49 482,135.91 479.91,134.24 482.58,134.12" fill="#16712a"/>
<path d="M355.68 83.61V92.09" stroke="#111" stroke-width="1" fill="none"/>
<path d="M354.28 83.61H357.08M354.28 92.09H357.08" stroke="#111" stroke-width="1.3" fill="none"/>
<path d="M385.76 80.78V89.26" stroke="#111" stroke-width="1" fill="none"/>
<path d="M384.36 80.78H387.16M384.36 89.26H387.16" stroke="#111" stroke-width="1.3" fill="none"/>
<path d="M408.32 59.12V69.48" stroke="#111" stroke-width="1" fill="none"/>
<path d="M406.92 59.12H409.72M406.92 69.48H409.72" stroke="#111" stroke-width="1.3" fill="none"/>
<path d="M438.4 46.63V57.47" stroke="#111" stroke-width="1" fill="none"/>
<path d="M437 46.63H439.8M437 57.47H439.8" stroke="#111" stroke-width="1.3" fill="none"/>
<path d="M325.6 108.1L355.68 87.85L385.76 85.02L408.32 64.3L438.4 52.05" stroke="#111" stroke-width="1.6" fill="none" stroke-linejoin="round"/>
<path d="M323 105.5L328.2 110.7M323 110.7L328.2 105.5" stroke="#111" stroke-width="1.2" fill="none"/>
<path d="M353.08 85.25L358.28 90.45M353.08 90.45L358.28 85.25" stroke="#111" stroke-width="1.2" fill="none"/>
<path d="M383.16 82.42L388.36 87.62M383.16 87.62L388.36 82.42" stroke="#111" stroke-width="1.2" fill="none"/>
<path d="M405.72 61.7L410.92 66.9M405.72 66.9L410.92 61.7" stroke="#111" stroke-width="1.2" fill="none"/>
<path d="M435.8 49.45L441 54.65M435.8 54.65L441 49.45" stroke="#111" stroke-width="1.2" fill="none"/>
<path d="M355.68 119.88V127.41" stroke="#111" stroke-width="1" fill="none"/>
<path d="M354.28 119.88H357.08M354.28 127.41H357.08" stroke="#111" stroke-width="1.3" fill="none"/>
<path d="M385.76 119.4V130.71" stroke="#111" stroke-width="1" fill="none"/>
<path d="M384.36 119.4H387.16M384.36 130.71H387.16" stroke="#111" stroke-width="1.3" fill="none"/>
<path d="M408.32 109.98V130.71" stroke="#111" stroke-width="1" fill="none"/>
<path d="M406.92 109.98H409.72M406.92 130.71H409.72" stroke="#111" stroke-width="1.3" fill="none"/>
<path d="M438.4 112.34V121.76" stroke="#111" stroke-width="1" fill="none"/>
<path d="M437 112.34H439.8M437 121.76H439.8" stroke="#111" stroke-width="1.3" fill="none"/>
<path d="M325.6 108.1L355.68 123.64L385.76 125.06L408.32 120.35L438.4 117.05" stroke="#111" stroke-width="1.6" fill="none" stroke-linejoin="round" stroke-dasharray="2.2 1.6"/>
<path d="M324.45 104.85L326.75 104.85L326.75 106.4Q326.75 106.95 327.3 106.95L328.85 106.95L328.85 109.25L327.3 109.25Q326.75 109.25 326.75 109.8L326.75 111.35L324.45 111.35L324.45 109.8Q324.45 109.25 323.9 109.25L322.35 109.25L322.35 106.95L323.9 106.95Q324.45 106.95 324.45 106.4Z" fill="#fff" stroke="#111" stroke-width="0.9" stroke-linejoin="round"/>
<path d="M354.53 120.39L356.83 120.39L356.83 121.94Q356.83 122.49 357.38 122.49L358.93 122.49L358.93 124.79L357.38 124.79Q356.83 124.79 356.83 125.34L356.83 126.89L354.53 126.89L354.53 125.34Q354.53 124.79 353.98 124.79L352.43 124.79L352.43 122.49L353.98 122.49Q354.53 122.49 354.53 121.94Z" fill="#fff" stroke="#111" stroke-width="0.9" stroke-linejoin="round"/>
<path d="M384.61 121.81L386.91 121.81L386.91 123.36Q386.91 123.91 387.46 123.91L389.01 123.91L389.01 126.21L387.46 126.21Q386.91 126.21 386.91 126.76L386.91 128.31L384.61 128.31L384.61 126.76Q384.61 126.21 384.06 126.21L382.51 126.21L382.51 123.91L384.06 123.91Q384.61 123.91 384.61 123.36Z" fill="#fff" stroke="#111" stroke-width="0.9" stroke-linejoin="round"/>
<path d="M407.17 117.1L409.47 117.1L409.47 118.65Q409.47 119.2 410.02 119.2L411.57 119.2L411.57 121.5L410.02 121.5Q409.47 121.5 409.47 122.05L409.47 123.6L407.17 123.6L407.17 122.05Q407.17 121.5 406.62 121.5L405.07 121.5L405.07 119.2L406.62 119.2Q407.17 119.2 407.17 118.65Z" fill="#fff" stroke="#111" stroke-width="0.9" stroke-linejoin="round"/>
<path d="M437.25 113.8L439.55 113.8L439.55 115.35Q439.55 115.9 440.1 115.9L441.65 115.9L441.65 118.2L440.1 118.2Q439.55 118.2 439.55 118.75L439.55 120.3L437.25 120.3L437.25 118.75Q437.25 118.2 436.7 118.2L435.15 118.2L435.15 115.9L436.7 115.9Q437.25 115.9 437.25 115.35Z" fill="#fff" stroke="#111" stroke-width="0.9" stroke-linejoin="round"/>
<path d="M333.4 2.8H350.7" stroke="#111" stroke-width="1.5"/>
<path d="M339.45 0.2L344.65 5.4M339.45 5.4L344.65 0.2" stroke="#111" stroke-width="1.2" fill="none"/>
<text class="lg" x="353" y="4.2" font-size="6.3">Vehicle</text>
<path d="M333.4 9.2H350.7" stroke="#16712a" stroke-width="1.5"/>
<path d="M342.05 6.9L344.35 9.2L342.05 11.5L339.75 9.2Z" fill="#b4ecb4" stroke="#16712a" stroke-width="0.9"/>
<text class="lg" x="353" y="10.6" font-size="6.3">aCD22 cal-ADC, 0.3 mg/kg</text>
<path d="M333.4 15.6H350.7" stroke="#16712a" stroke-width="1.5"/>
<circle cx="342.05" cy="15.6" r="2.2" fill="#16712a"/>
<text class="lg" x="353" y="17" font-size="6.3">aCD22 cal-ADC, 1 mg/kg</text>
<path d="M333.4 22H350.7" stroke="#16712a" stroke-width="1.5"/>
<path d="M341.04 19.14L343.06 19.14L343.06 20.5Q343.06 20.99 343.55 20.99L344.91 20.99L344.91 23.01L343.55 23.01Q343.06 23.01 343.06 23.5L343.06 24.86L341.04 24.86L341.04 23.5Q341.04 23.01 340.55 23.01L339.19 23.01L339.19 20.99L340.55 20.99Q341.04 20.99 341.04 20.5Z" fill="#fff" stroke="#16712a" stroke-width="0.9" stroke-linejoin="round"/>
<text class="lg" x="353" y="23.4" font-size="6.3">aCD22 cal-ADC, 3 mg/kg</text>
<path d="M333.4 28.4H350.7" stroke="#16712a" stroke-width="1.5"/>
<rect x="339.65" y="26" width="4.8" height="4.8" fill="none" stroke="#16712a" stroke-width="0.9"/>
<text class="lg" x="353" y="29.8" font-size="6.3">aCD22 cal-ADC, 6 mg/kg</text>
<path d="M333.4 34.8H350.7" stroke="#16712a" stroke-width="1.5"/>
<polygon points="342.05,31 342.99,33.51 345.66,33.63 343.57,35.29 344.28,37.87 342.05,36.4 339.82,37.87 340.53,35.29 338.44,33.63 341.11,33.51" fill="#16712a"/>
<text class="lg" x="353" y="36.2" font-size="6.3">aCD22 cal-ADC, 10 mg/kg</text>
<path d="M333.4 41.2H350.7" stroke="#111" stroke-width="1.5" stroke-dasharray="2.2 1.6"/>
<path d="M341.04 38.34L343.06 38.34L343.06 39.7Q343.06 40.19 343.55 40.19L344.91 40.19L344.91 42.21L343.55 42.21Q343.06 42.21 343.06 42.7L343.06 44.06L341.04 44.06L341.04 42.7Q341.04 42.21 340.55 42.21L339.19 42.21L339.19 40.19L340.55 40.19Q341.04 40.19 341.04 39.7Z" fill="#fff" stroke="#111" stroke-width="0.9" stroke-linejoin="round"/>
<text class="lg" x="353" y="42.6" font-size="6.3">aLy6E cal-ADC, 3 mg/kg</text>
<path d="M46.1 261.6V449.7H234.1" stroke="#444" stroke-width="1" fill="none"/>
<path d="M53.62 449.7v-2M61.14 449.7v-2M68.66 449.7v-2M76.18 449.7v-2M83.7 449.7v-3.2M91.22 449.7v-2M98.74 449.7v-2M106.26 449.7v-2M113.78 449.7v-2M121.3 449.7v-3.2M128.82 449.7v-2M136.34 449.7v-2M143.86 449.7v-2M151.38 449.7v-2M158.9 449.7v-3.2M166.42 449.7v-2M173.94 449.7v-2M181.46 449.7v-2M188.98 449.7v-2M196.5 449.7v-3.2M204.02 449.7v-2M211.54 449.7v-2M219.06 449.7v-2M226.58 449.7v-2M234.1 449.7v-3.2M46.1 441.15h2M46.1 432.6h2M46.1 424.05h2M46.1 415.5h2M46.1 406.95h3.2M46.1 398.4h2M46.1 389.85h2M46.1 381.3h2M46.1 372.75h2M46.1 364.2h3.2M46.1 355.65h2M46.1 347.1h2M46.1 338.55h2M46.1 330h2M46.1 321.45h3.2M46.1 312.9h2M46.1 304.35h2M46.1 295.8h2M46.1 287.25h2M46.1 278.7h3.2M46.1 270.15h2M46.1 261.6h2" stroke="#444" stroke-width="1" fill="none"/>
<text x="46.1" y="457.9" text-anchor="middle" font-size="9.1">0</text>
<text x="83.7" y="457.9" text-anchor="middle" font-size="9.1">5</text>
<text x="121.3" y="457.9" text-anchor="middle" font-size="9.1">10</text>
<text x="158.9" y="457.9" text-anchor="middle" font-size="9.1">15</text>
<text x="196.5" y="457.9" text-anchor="middle" font-size="9.1">20</text>
<text x="234.1" y="457.9" text-anchor="middle" font-size="9.1">25</text>
<text x="41.9" y="452.8" text-anchor="end" font-size="9.1">0</text>
<text x="41.9" y="410.05" text-anchor="end" font-size="9.1">500</text>
<text x="41.9" y="367.3" text-anchor="end" font-size="9.1">1,000</text>
<text x="41.9" y="324.55" text-anchor="end" font-size="9.1">1,500</text>
<text x="41.9" y="281.8" text-anchor="end" font-size="9.1">2,000</text>
<text x="0.6" y="264.1" font-size="13.6" font-weight="bold" fill="#111">C</text>
<text x="141" y="472.9" text-anchor="middle" font-size="10">Time (days)</text>
<text transform="translate(10.1 356.6) rotate(-90)" text-anchor="middle" font-size="10.2">Tumor volume (mm<tspan font-size="7.2" dy="-2.9">3</tspan><tspan dy="2.9">)</tspan></text>
<path d="M76.18 410.71V414.13" stroke="#2420b0" stroke-width="1" fill="none"/>
<path d="M74.78 410.71H77.58M74.78 414.13H77.58" stroke="#2420b0" stroke-width="1.3" fill="none"/>
<path d="M98.74 396.26V406.52" stroke="#2420b0" stroke-width="1" fill="none"/>
<path d="M97.34 396.26H100.14M97.34 406.52H100.14" stroke="#2420b0" stroke-width="1.3" fill="none"/>
<path d="M128.82 358.13V380.36" stroke="#2420b0" stroke-width="1" fill="none"/>
<path d="M127.42 358.13H130.22M127.42 380.36H130.22" stroke="#2420b0" stroke-width="1.3" fill="none"/>
<path d="M151.38 335.13V365.06" stroke="#2420b0" stroke-width="1" fill="none"/>
<path d="M149.98 335.13H152.78M149.98 365.06H152.78" stroke="#2420b0" stroke-width="1.3" fill="none"/>
<path d="M46.1 430.46L76.18 412.42L98.74 401.39L128.82 369.24L151.38 350.09" stroke="#1d17b8" stroke-width="1.6" fill="none" stroke-linejoin="round"/>
<path d="M46.1 428.16L48.4 430.46L46.1 432.76L43.8 430.46Z" fill="#b8b8f0" stroke="#1d17b8" stroke-width="0.9"/>
<path d="M76.18 410.12L78.48 412.42L76.18 414.72L73.88 412.42Z" fill="#b8b8f0" stroke="#1d17b8" stroke-width="0.9"/>
<path d="M98.74 399.09L101.04 401.39L98.74 403.69L96.44 401.39Z" fill="#b8b8f0" stroke="#1d17b8" stroke-width="0.9"/>
<path d="M128.82 366.94L131.12 369.24L128.82 371.54L126.52 369.24Z" fill="#b8b8f0" stroke="#1d17b8" stroke-width="0.9"/>
<path d="M151.38 347.79L153.68 350.09L151.38 352.39L149.08 350.09Z" fill="#b8b8f0" stroke="#1d17b8" stroke-width="0.9"/>
<path d="M76.18 414.73V418.15" stroke="#2420b0" stroke-width="1" fill="none"/>
<path d="M74.78 414.73H77.58M74.78 418.15H77.58" stroke="#2420b0" stroke-width="1.3" fill="none"/>
<path d="M98.74 410.46V417.3" stroke="#2420b0" stroke-width="1" fill="none"/>
<path d="M97.34 410.46H100.14M97.34 417.3H100.14" stroke="#2420b0" stroke-width="1.3" fill="none"/>
<path d="M128.82 418.75V431.57" stroke="#2420b0" stroke-width="1" fill="none"/>
<path d="M127.42 418.75H130.22M127.42 431.57H130.22" stroke="#2420b0" stroke-width="1.3" fill="none"/>
<path d="M151.38 419.43V432.26" stroke="#2420b0" stroke-width="1" fill="none"/>
<path d="M149.98 419.43H152.78M149.98 432.26H152.78" stroke="#2420b0" stroke-width="1.3" fill="none"/>
<path d="M181.46 418.75V431.57" stroke="#2420b0" stroke-width="1" fill="none"/>
<path d="M180.06 418.75H182.86M180.06 431.57H182.86" stroke="#2420b0" stroke-width="1.3" fill="none"/>
<path d="M204.02 419.43V432.26" stroke="#2420b0" stroke-width="1" fill="none"/>
<path d="M202.62 419.43H205.42M202.62 432.26H205.42" stroke="#2420b0" stroke-width="1.3" fill="none"/>
<path d="M46.1 430.46L76.18 416.44L98.74 413.88L128.82 425.16L151.38 425.85L181.46 425.16L204.02 425.85" stroke="#1d17b8" stroke-width="1.6" fill="none" stroke-linejoin="round"/>
<circle cx="46.1" cy="430.46" r="2.2" fill="#1d17b8"/>
<circle cx="76.18" cy="416.44" r="2.2" fill="#1d17b8"/>
<circle cx="98.74" cy="413.88" r="2.2" fill="#1d17b8"/>
<circle cx="128.82" cy="425.16" r="2.2" fill="#1d17b8"/>
<circle cx="151.38" cy="425.85" r="2.2" fill="#1d17b8"/>
<circle cx="181.46" cy="425.16" r="2.2" fill="#1d17b8"/>
<circle cx="204.02" cy="425.85" r="2.2" fill="#1d17b8"/>
<path d="M76.18 417.72V421.14" stroke="#2420b0" stroke-width="1" fill="none"/>
<path d="M74.78 417.72H77.58M74.78 421.14H77.58" stroke="#2420b0" stroke-width="1.3" fill="none"/>
<path d="M98.74 423.79V428.92" stroke="#2420b0" stroke-width="1" fill="none"/>
<path d="M97.34 423.79H100.14M97.34 428.92H100.14" stroke="#2420b0" stroke-width="1.3" fill="none"/>
<path d="M128.82 438.33V440.89" stroke="#2420b0" stroke-width="1" fill="none"/>
<path d="M127.42 438.33H130.22M127.42 440.89H130.22" stroke="#2420b0" stroke-width="1.3" fill="none"/>
<path d="M151.38 441.58V443.63" stroke="#2420b0" stroke-width="1" fill="none"/>
<path d="M149.98 441.58H152.78M149.98 443.63H152.78" stroke="#2420b0" stroke-width="1.3" fill="none"/>
<path d="M181.46 442.95V444.66" stroke="#2420b0" stroke-width="1" fill="none"/>
<path d="M180.06 442.95H182.86M180.06 444.66H182.86" stroke="#2420b0" stroke-width="1.3" fill="none"/>
<path d="M204.02 445.6V446.96" stroke="#2420b0" stroke-width="1" fill="none"/>
<path d="M202.62 445.6H205.42M202.62 446.96H205.42" stroke="#2420b0" stroke-width="1.3" fill="none"/>
<path d="M46.1 430.46L76.18 419.43L98.74 426.36L128.82 439.61L151.38 442.6L181.46 443.8L204.02 446.28" stroke="#1d17b8" stroke-width="1.6" fill="none" stroke-linejoin="round"/>
<path d="M44.95 427.21L47.25 427.21L47.25 428.76Q47.25 429.31 47.8 429.31L49.35 429.31L49.35 431.61L47.8 431.61Q47.25 431.61 47.25 432.16L47.25 433.71L44.95 433.71L44.95 432.16Q44.95 431.61 44.4 431.61L42.85 431.61L42.85 429.31L44.4 429.31Q44.95 429.31 44.95 428.76Z" fill="#fff" stroke="#1d17b8" stroke-width="0.9" stroke-linejoin="round"/>
<path d="M75.03 416.18L77.33 416.18L77.33 417.73Q77.33 418.28 77.88 418.28L79.43 418.28L79.43 420.58L77.88 420.58Q77.33 420.58 77.33 421.13L77.33 422.68L75.03 422.68L75.03 421.13Q75.03 420.58 74.48 420.58L72.93 420.58L72.93 418.28L74.48 418.28Q75.03 418.28 75.03 417.73Z" fill="#fff" stroke="#1d17b8" stroke-width="0.9" stroke-linejoin="round"/>
<path d="M97.59 423.11L99.89 423.11L99.89 424.66Q99.89 425.21 100.44 425.21L101.99 425.21L101.99 427.51L100.44 427.51Q99.89 427.51 99.89 428.06L99.89 429.61L97.59 429.61L97.59 428.06Q97.59 427.51 97.04 427.51L95.49 427.51L95.49 425.21L97.04 425.21Q97.59 425.21 97.59 424.66Z" fill="#fff" stroke="#1d17b8" stroke-width="0.9" stroke-linejoin="round"/>
<path d="M127.67 436.36L129.97 436.36L129.97 437.91Q129.97 438.46 130.52 438.46L132.07 438.46L132.07 440.76L130.52 440.76Q129.97 440.76 129.97 441.31L129.97 442.86L127.67 442.86L127.67 441.31Q127.67 440.76 127.12 440.76L125.57 440.76L125.57 438.46L127.12 438.46Q127.67 438.46 127.67 437.91Z" fill="#fff" stroke="#1d17b8" stroke-width="0.9" stroke-linejoin="round"/>
<path d="M150.23 439.35L152.53 439.35L152.53 440.9Q152.53 441.45 153.08 441.45L154.63 441.45L154.63 443.75L153.08 443.75Q152.53 443.75 152.53 444.3L152.53 445.85L150.23 445.85L150.23 444.3Q150.23 443.75 149.68 443.75L148.13 443.75L148.13 441.45L149.68 441.45Q150.23 441.45 150.23 440.9Z" fill="#fff" stroke="#1d17b8" stroke-width="0.9" stroke-linejoin="round"/>
<path d="M180.31 440.55L182.61 440.55L182.61 442.1Q182.61 442.65 183.16 442.65L184.71 442.65L184.71 444.95L183.16 444.95Q182.61 444.95 182.61 445.5L182.61 447.05L180.31 447.05L180.31 445.5Q180.31 444.95 179.76 444.95L178.21 444.95L178.21 442.65L179.76 442.65Q180.31 442.65 180.31 442.1Z" fill="#fff" stroke="#1d17b8" stroke-width="0.9" stroke-linejoin="round"/>
<path d="M202.87 443.03L205.17 443.03L205.17 444.58Q205.17 445.13 205.72 445.13L207.27 445.13L207.27 447.43L205.72 447.43Q205.17 447.43 205.17 447.98L205.17 449.53L202.87 449.53L202.87 447.98Q202.87 447.43 202.32 447.43L200.77 447.43L200.77 445.13L202.32 445.13Q202.87 445.13 202.87 444.58Z" fill="#fff" stroke="#1d17b8" stroke-width="0.9" stroke-linejoin="round"/>
<path d="M76.18 420.8V424.22" stroke="#2420b0" stroke-width="1" fill="none"/>
<path d="M74.78 420.8H77.58M74.78 424.22H77.58" stroke="#2420b0" stroke-width="1.3" fill="none"/>
<path d="M98.74 429.27V434.4" stroke="#2420b0" stroke-width="1" fill="none"/>
<path d="M97.34 429.27H100.14M97.34 434.4H100.14" stroke="#2420b0" stroke-width="1.3" fill="none"/>
<path d="M128.82 439.61V442.18" stroke="#2420b0" stroke-width="1" fill="none"/>
<path d="M127.42 439.61H130.22M127.42 442.18H130.22" stroke="#2420b0" stroke-width="1.3" fill="none"/>
<path d="M151.38 442.35V444.4" stroke="#2420b0" stroke-width="1" fill="none"/>
<path d="M149.98 442.35H152.78M149.98 444.4H152.78" stroke="#2420b0" stroke-width="1.3" fill="none"/>
<path d="M181.46 444.74V446.45" stroke="#2420b0" stroke-width="1" fill="none"/>
<path d="M180.06 444.74H182.86M180.06 446.45H182.86" stroke="#2420b0" stroke-width="1.3" fill="none"/>
<path d="M204.02 446.45V447.82" stroke="#2420b0" stroke-width="1" fill="none"/>
<path d="M202.62 446.45H205.42M202.62 447.82H205.42" stroke="#2420b0" stroke-width="1.3" fill="none"/>
<path d="M46.1 430.46L76.18 422.51L98.74 431.83L128.82 440.89L151.38 443.37L181.46 445.6L204.02 447.13" stroke="#1d17b8" stroke-width="1.6" fill="none" stroke-linejoin="round"/>
<rect x="43.7" y="428.06" width="4.8" height="4.8" fill="none" stroke="#1d17b8" stroke-width="0.9"/>
<rect x="73.78" y="420.11" width="4.8" height="4.8" fill="none" stroke="#1d17b8" stroke-width="0.9"/>
<rect x="96.34" y="429.43" width="4.8" height="4.8" fill="none" stroke="#1d17b8" stroke-width="0.9"/>
<rect x="126.42" y="438.49" width="4.8" height="4.8" fill="none" stroke="#1d17b8" stroke-width="0.9"/>
<rect x="148.98" y="440.97" width="4.8" height="4.8" fill="none" stroke="#1d17b8" stroke-width="0.9"/>
<rect x="179.06" y="443.2" width="4.8" height="4.8" fill="none" stroke="#1d17b8" stroke-width="0.9"/>
<rect x="201.62" y="444.74" width="4.8" height="4.8" fill="none" stroke="#1d17b8" stroke-width="0.9"/>
<path d="M76.18 427.64V430.21" stroke="#2420b0" stroke-width="1" fill="none"/>
<path d="M74.78 427.64H77.58M74.78 430.21H77.58" stroke="#2420b0" stroke-width="1.3" fill="none"/>
<path d="M98.74 438.93V441.49" stroke="#2420b0" stroke-width="1" fill="none"/>
<path d="M97.34 438.93H100.14M97.34 441.49H100.14" stroke="#2420b0" stroke-width="1.3" fill="none"/>
<path d="M128.82 444.74V446.45" stroke="#2420b0" stroke-width="1" fill="none"/>
<path d="M127.42 444.74H130.22M127.42 446.45H130.22" stroke="#2420b0" stroke-width="1.3" fill="none"/>
<path d="M151.38 446.88V448.25" stroke="#2420b0" stroke-width="1" fill="none"/>
<path d="M149.98 446.88H152.78M149.98 448.25H152.78" stroke="#2420b0" stroke-width="1.3" fill="none"/>
<path d="M181.46 447.39V448.76" stroke="#2420b0" stroke-width="1" fill="none"/>
<path d="M180.06 447.39H182.86M180.06 448.76H182.86" stroke="#2420b0" stroke-width="1.3" fill="none"/>
<path d="M204.02 447.73V449.1" stroke="#2420b0" stroke-width="1" fill="none"/>
<path d="M202.62 447.73H205.42M202.62 449.1H205.42" stroke="#2420b0" stroke-width="1.3" fill="none"/>
<path d="M46.1 430.46L76.18 428.92L98.74 440.21L128.82 445.6L151.38 447.56L181.46 448.08L204.02 448.42" stroke="#1d17b8" stroke-width="1.6" fill="none" stroke-linejoin="round"/>
<polygon points="43.9,427.46 49.1,432.66 43.9,432.66" fill="#1d17b8"/>
<polygon points="73.98,425.92 79.18,431.12 73.98,431.12" fill="#1d17b8"/>
<polygon points="96.54,437.21 101.74,442.41 96.54,442.41" fill="#1d17b8"/>
<polygon points="126.62,442.6 131.82,447.8 126.62,447.8" fill="#1d17b8"/>
<polygon points="149.18,444.56 154.38,449.76 149.18,449.76" fill="#1d17b8"/>
<polygon points="179.26,445.08 184.46,450.28 179.26,450.28" fill="#1d17b8"/>
<polygon points="201.82,445.42 207.02,450.62 201.82,450.62" fill="#1d17b8"/>
<path d="M76.18 403.36V408.49" stroke="#111" stroke-width="1" fill="none"/>
<path d="M74.78 403.36H77.58M74.78 408.49H77.58" stroke="#111" stroke-width="1.3" fill="none"/>
<path d="M98.74 363.52V384.04" stroke="#111" stroke-width="1" fill="none"/>
<path d="M97.34 363.52H100.14M97.34 384.04H100.14" stroke="#111" stroke-width="1.3" fill="none"/>
<path d="M128.82 272.72V325.21" stroke="#111" stroke-width="1" fill="none"/>
<path d="M127.42 272.72H130.22M127.42 325.21H130.22" stroke="#111" stroke-width="1.3" fill="none"/>
<path d="M46.1 430.46L76.18 405.92L98.74 373.78L128.82 298.96" stroke="#111" stroke-width="1.6" fill="none" stroke-linejoin="round"/>
<path d="M43.5 427.86L48.7 433.06M43.5 433.06L48.7 427.86" stroke="#111" stroke-width="1.2" fill="none"/>
<path d="M73.58 403.32L78.78 408.52M73.58 408.52L78.78 403.32" stroke="#111" stroke-width="1.2" fill="none"/>
<path d="M96.14 371.18L101.34 376.38M96.14 376.38L101.34 371.18" stroke="#111" stroke-width="1.2" fill="none"/>
<path d="M126.22 296.36L131.42 301.56M126.22 301.56L131.42 296.36" stroke="#111" stroke-width="1.2" fill="none"/>
<path d="M76.18 408.75V412.17" stroke="#111" stroke-width="1" fill="none"/>
<path d="M74.78 408.75H77.58M74.78 412.17H77.58" stroke="#111" stroke-width="1.3" fill="none"/>
<path d="M98.74 400.88V409.43" stroke="#111" stroke-width="1" fill="none"/>
<path d="M97.34 400.88H100.14M97.34 409.43H100.14" stroke="#111" stroke-width="1.3" fill="none"/>
<path d="M128.82 339.15V357.96" stroke="#111" stroke-width="1" fill="none"/>
<path d="M127.42 339.15H130.22M127.42 357.96H130.22" stroke="#111" stroke-width="1.3" fill="none"/>
<path d="M46.1 430.46L76.18 410.46L98.74 405.15L128.82 348.55" stroke="#111" stroke-width="1.6" fill="none" stroke-linejoin="round" stroke-dasharray="2.2 1.6"/>
<path d="M44.95 427.21L47.25 427.21L47.25 428.76Q47.25 429.31 47.8 429.31L49.35 429.31L49.35 431.61L47.8 431.61Q47.25 431.61 47.25 432.16L47.25 433.71L44.95 433.71L44.95 432.16Q44.95 431.61 44.4 431.61L42.85 431.61L42.85 429.31L44.4 429.31Q44.95 429.31 44.95 428.76Z" fill="#fff" stroke="#111" stroke-width="0.9" stroke-linejoin="round"/>
<path d="M75.03 407.21L77.33 407.21L77.33 408.76Q77.33 409.31 77.88 409.31L79.43 409.31L79.43 411.61L77.88 411.61Q77.33 411.61 77.33 412.16L77.33 413.71L75.03 413.71L75.03 412.16Q75.03 411.61 74.48 411.61L72.93 411.61L72.93 409.31L74.48 409.31Q75.03 409.31 75.03 408.76Z" fill="#fff" stroke="#111" stroke-width="0.9" stroke-linejoin="round"/>
<path d="M97.59 401.9L99.89 401.9L99.89 403.45Q99.89 404 100.44 404L101.99 404L101.99 406.3L100.44 406.3Q99.89 406.3 99.89 406.85L99.89 408.4L97.59 408.4L97.59 406.85Q97.59 406.3 97.04 406.3L95.49 406.3L95.49 404L97.04 404Q97.59 404 97.59 403.45Z" fill="#fff" stroke="#111" stroke-width="0.9" stroke-linejoin="round"/>
<path d="M127.67 345.3L129.97 345.3L129.97 346.85Q129.97 347.4 130.52 347.4L132.07 347.4L132.07 349.7L130.52 349.7Q129.97 349.7 129.97 350.25L129.97 351.8L127.67 351.8L127.67 350.25Q127.67 349.7 127.12 349.7L125.57 349.7L125.57 347.4L127.12 347.4Q127.67 347.4 127.67 346.85Z" fill="#fff" stroke="#111" stroke-width="0.9" stroke-linejoin="round"/>
<path d="M136.9 279H153.8" stroke="#111" stroke-width="1.25"/>
<path d="M142.75 276.4L147.95 281.6M142.75 281.6L147.95 276.4" stroke="#111" stroke-width="1.2" fill="none"/>
<text class="lg" x="157.1" y="280.4" font-size="6.3">Vehicle</text>
<path d="M136.9 285.2H153.8" stroke="#1d17b8" stroke-width="1.25"/>
<path d="M145.35 282.9L147.65 285.2L145.35 287.5L143.05 285.2Z" fill="#b8b8f0" stroke="#1d17b8" stroke-width="0.9"/>
<text class="lg" x="157.1" y="286.6" font-size="6.3">aLy6E cal-ADC, 0.3 mg/kg</text>
<path d="M136.9 291.4H153.8" stroke="#1d17b8" stroke-width="1.25"/>
<circle cx="145.35" cy="291.4" r="2.2" fill="#1d17b8"/>
<text class="lg" x="157.1" y="292.8" font-size="6.3">aLy6E cal-ADC, 1 mg/kg</text>
<path d="M136.9 297.6H153.8" stroke="#1d17b8" stroke-width="1.25"/>
<path d="M144.34 294.74L146.36 294.74L146.36 296.1Q146.36 296.59 146.85 296.59L148.21 296.59L148.21 298.61L146.85 298.61Q146.36 298.61 146.36 299.1L146.36 300.46L144.34 300.46L144.34 299.1Q144.34 298.61 143.85 298.61L142.49 298.61L142.49 296.59L143.85 296.59Q144.34 296.59 144.34 296.1Z" fill="#fff" stroke="#1d17b8" stroke-width="0.9" stroke-linejoin="round"/>
<text class="lg" x="157.1" y="299" font-size="6.3">aLy6E cal-ADC, 3 mg/kg</text>
<path d="M136.9 303.8H153.8" stroke="#1d17b8" stroke-width="1.25"/>
<rect x="142.95" y="301.4" width="4.8" height="4.8" fill="none" stroke="#1d17b8" stroke-width="0.9"/>
<text class="lg" x="157.1" y="305.2" font-size="6.3">aLy6E cal-ADC, 6 mg/kg</text>
<path d="M136.9 310H153.8" stroke="#1d17b8" stroke-width="1.25"/>
<polygon points="143.15,307 148.35,312.2 143.15,312.2" fill="#1d17b8"/>
<text class="lg" x="157.1" y="311.4" font-size="6.3">aLy6E cal-ADC, 10 mg/kg</text>
<path d="M136.9 316.2H153.8" stroke="#111" stroke-width="1.25" stroke-dasharray="2.2 1.6"/>
<path d="M144.34 313.34L146.36 313.34L146.36 314.7Q146.36 315.19 146.85 315.19L148.21 315.19L148.21 317.21L146.85 317.21Q146.36 317.21 146.36 317.7L146.36 319.06L144.34 319.06L144.34 317.7Q144.34 317.21 143.85 317.21L142.49 317.21L142.49 315.19L143.85 315.19Q144.34 315.19 144.34 314.7Z" fill="#fff" stroke="#111" stroke-width="0.9" stroke-linejoin="round"/>
<text class="lg" x="157.1" y="317.6" font-size="6.3">aCD22 cal-ADC, 3 mg/kg</text>
<path d="M326.4 261.8V449.6H514.4" stroke="#444" stroke-width="1" fill="none"/>
<path d="M333.92 449.6v-2M341.44 449.6v-2M348.96 449.6v-2M356.48 449.6v-2M364 449.6v-3.2M371.52 449.6v-2M379.04 449.6v-2M386.56 449.6v-2M394.08 449.6v-2M401.6 449.6v-3.2M409.12 449.6v-2M416.64 449.6v-2M424.16 449.6v-2M431.68 449.6v-2M439.2 449.6v-3.2M446.72 449.6v-2M454.24 449.6v-2M461.76 449.6v-2M469.28 449.6v-2M476.8 449.6v-3.2M484.32 449.6v-2M491.84 449.6v-2M499.36 449.6v-2M506.88 449.6v-2M514.4 449.6v-3.2M326.4 444.91h2M326.4 440.21h2M326.4 435.52h2M326.4 430.82h2M326.4 426.12h3.2M326.4 421.43h2M326.4 416.74h2M326.4 412.04h2M326.4 407.35h2M326.4 402.65h3.2M326.4 397.96h2M326.4 393.26h2M326.4 388.56h2M326.4 383.87h2M326.4 379.18h3.2M326.4 374.48h2M326.4 369.79h2M326.4 365.09h2M326.4 360.39h2M326.4 355.7h3.2M326.4 351h2M326.4 346.31h2M326.4 341.62h2M326.4 336.92h2M326.4 332.23h3.2M326.4 327.53h2M326.4 322.84h2M326.4 318.14h2M326.4 313.44h2M326.4 308.75h3.2M326.4 304.06h2M326.4 299.36h2M326.4 294.67h2M326.4 289.97h2M326.4 285.28h3.2M326.4 280.58h2M326.4 275.88h2M326.4 271.19h2M326.4 266.5h2M326.4 261.8h3.2" stroke="#444" stroke-width="1" fill="none"/>
<text x="326.4" y="457.9" text-anchor="middle" font-size="9.1">0</text>
<text x="364" y="457.9" text-anchor="middle" font-size="9.1">5</text>
<text x="401.6" y="457.9" text-anchor="middle" font-size="9.1">10</text>
<text x="439.2" y="457.9" text-anchor="middle" font-size="9.1">15</text>
<text x="476.8" y="457.9" text-anchor="middle" font-size="9.1">20</text>
<text x="514.4" y="457.9" text-anchor="middle" font-size="9.1">25</text>
<text x="321.2" y="453" text-anchor="end" font-size="9.1">–20</text>
<text x="321.2" y="429.53" text-anchor="end" font-size="9.1">–15</text>
<text x="321.2" y="406.05" text-anchor="end" font-size="9.1">–10</text>
<text x="321.2" y="382.58" text-anchor="end" font-size="9.1">–5</text>
<text x="321.2" y="359.1" text-anchor="end" font-size="9.1">0</text>
<text x="321.2" y="335.63" text-anchor="end" font-size="9.1">5</text>
<text x="321.2" y="312.15" text-anchor="end" font-size="9.1">10</text>
<text x="321.2" y="288.68" text-anchor="end" font-size="9.1">15</text>
<text x="321.2" y="265.2" text-anchor="end" font-size="9.1">20</text>
<text x="282.0" y="264.0" font-size="13.6" font-weight="bold" fill="#111">D</text>
<text x="420.4" y="472.9" text-anchor="middle" font-size="10">Time (days)</text>
<text transform="translate(293.8 358.8) rotate(-90)" text-anchor="middle" font-size="10.2">% Body weight change</text>
<path d="M356.48 354.29V358.99" stroke="#2420b0" stroke-width="1" fill="none"/>
<path d="M355.08 354.29H357.88M355.08 358.99H357.88" stroke="#2420b0" stroke-width="1.3" fill="none"/>
<path d="M379.04 351.94V356.64" stroke="#2420b0" stroke-width="1" fill="none"/>
<path d="M377.64 351.94H380.44M377.64 356.64H380.44" stroke="#2420b0" stroke-width="1.3" fill="none"/>
<path d="M409.12 351.47V358.05" stroke="#2420b0" stroke-width="1" fill="none"/>
<path d="M407.72 351.47H410.52M407.72 358.05H410.52" stroke="#2420b0" stroke-width="1.3" fill="none"/>
<path d="M431.68 347.72V355.23" stroke="#2420b0" stroke-width="1" fill="none"/>
<path d="M430.28 347.72H433.08M430.28 355.23H433.08" stroke="#2420b0" stroke-width="1.3" fill="none"/>
<path d="M326.4 355.7L356.48 356.64L379.04 354.29L409.12 354.76L431.68 351.47" stroke="#1d17b8" stroke-width="1.6" fill="none" stroke-linejoin="round"/>
<path d="M326.4 353.4L328.7 355.7L326.4 358L324.1 355.7Z" fill="#b8b8f0" stroke="#1d17b8" stroke-width="0.9"/>
<path d="M356.48 354.34L358.78 356.64L356.48 358.94L354.18 356.64Z" fill="#b8b8f0" stroke="#1d17b8" stroke-width="0.9"/>
<path d="M379.04 351.99L381.34 354.29L379.04 356.59L376.74 354.29Z" fill="#b8b8f0" stroke="#1d17b8" stroke-width="0.9"/>
<path d="M409.12 352.46L411.42 354.76L409.12 357.06L406.82 354.76Z" fill="#b8b8f0" stroke="#1d17b8" stroke-width="0.9"/>
<path d="M431.68 349.17L433.98 351.47L431.68 353.77L429.38 351.47Z" fill="#b8b8f0" stroke="#1d17b8" stroke-width="0.9"/>
<path d="M356.48 356.17V361.8" stroke="#2420b0" stroke-width="1" fill="none"/>
<path d="M355.08 356.17H357.88M355.08 361.8H357.88" stroke="#2420b0" stroke-width="1.3" fill="none"/>
<path d="M379.04 356.17V363.68" stroke="#2420b0" stroke-width="1" fill="none"/>
<path d="M377.64 356.17H380.44M377.64 363.68H380.44" stroke="#2420b0" stroke-width="1.3" fill="none"/>
<path d="M409.12 363.68V374.95" stroke="#2420b0" stroke-width="1" fill="none"/>
<path d="M407.72 363.68H410.52M407.72 374.95H410.52" stroke="#2420b0" stroke-width="1.3" fill="none"/>
<path d="M431.68 351.94V364.15" stroke="#2420b0" stroke-width="1" fill="none"/>
<path d="M430.28 351.94H433.08M430.28 364.15H433.08" stroke="#2420b0" stroke-width="1.3" fill="none"/>
<path d="M461.76 354.76V369.79" stroke="#2420b0" stroke-width="1" fill="none"/>
<path d="M460.36 354.76H463.16M460.36 369.79H463.16" stroke="#2420b0" stroke-width="1.3" fill="none"/>
<path d="M484.32 354.29V366.5" stroke="#2420b0" stroke-width="1" fill="none"/>
<path d="M482.92 354.29H485.72M482.92 366.5H485.72" stroke="#2420b0" stroke-width="1.3" fill="none"/>
<path d="M326.4 355.7L356.48 358.99L379.04 359.93L409.12 369.32L431.68 358.05L461.76 362.27L484.32 360.39" stroke="#1d17b8" stroke-width="1.6" fill="none" stroke-linejoin="round"/>
<circle cx="326.4" cy="355.7" r="2.2" fill="#1d17b8"/>
<circle cx="356.48" cy="358.99" r="2.2" fill="#1d17b8"/>
<circle cx="379.04" cy="359.93" r="2.2" fill="#1d17b8"/>
<circle cx="409.12" cy="369.32" r="2.2" fill="#1d17b8"/>
<circle cx="431.68" cy="358.05" r="2.2" fill="#1d17b8"/>
<circle cx="461.76" cy="362.27" r="2.2" fill="#1d17b8"/>
<circle cx="484.32" cy="360.39" r="2.2" fill="#1d17b8"/>
<path d="M356.48 374.48V380.11" stroke="#2420b0" stroke-width="1" fill="none"/>
<path d="M355.08 374.48H357.88M355.08 380.11H357.88" stroke="#2420b0" stroke-width="1.3" fill="none"/>
<path d="M379.04 374.95V382.46" stroke="#2420b0" stroke-width="1" fill="none"/>
<path d="M377.64 374.95H380.44M377.64 382.46H380.44" stroke="#2420b0" stroke-width="1.3" fill="none"/>
<path d="M409.12 377.77V387.16" stroke="#2420b0" stroke-width="1" fill="none"/>
<path d="M407.72 377.77H410.52M407.72 387.16H410.52" stroke="#2420b0" stroke-width="1.3" fill="none"/>
<path d="M431.68 375.89V381.52" stroke="#2420b0" stroke-width="1" fill="none"/>
<path d="M430.28 375.89H433.08M430.28 381.52H433.08" stroke="#2420b0" stroke-width="1.3" fill="none"/>
<path d="M461.76 377.77V386.22" stroke="#2420b0" stroke-width="1" fill="none"/>
<path d="M460.36 377.77H463.16M460.36 386.22H463.16" stroke="#2420b0" stroke-width="1.3" fill="none"/>
<path d="M484.32 375.42V383.87" stroke="#2420b0" stroke-width="1" fill="none"/>
<path d="M482.92 375.42H485.72M482.92 383.87H485.72" stroke="#2420b0" stroke-width="1.3" fill="none"/>
<path d="M326.4 355.7L356.48 377.3L379.04 378.71L409.12 382.46L431.68 378.71L461.76 381.99L484.32 379.64" stroke="#1d17b8" stroke-width="1.6" fill="none" stroke-linejoin="round"/>
<path d="M325.25 352.45L327.55 352.45L327.55 354Q327.55 354.55 328.1 354.55L329.65 354.55L329.65 356.85L328.1 356.85Q327.55 356.85 327.55 357.4L327.55 358.95L325.25 358.95L325.25 357.4Q325.25 356.85 324.7 356.85L323.15 356.85L323.15 354.55L324.7 354.55Q325.25 354.55 325.25 354Z" fill="#fff" stroke="#1d17b8" stroke-width="0.9" stroke-linejoin="round"/>
<path d="M355.33 374.05L357.63 374.05L357.63 375.6Q357.63 376.15 358.18 376.15L359.73 376.15L359.73 378.45L358.18 378.45Q357.63 378.45 357.63 379L357.63 380.55L355.33 380.55L355.33 379Q355.33 378.45 354.78 378.45L353.23 378.45L353.23 376.15L354.78 376.15Q355.33 376.15 355.33 375.6Z" fill="#fff" stroke="#1d17b8" stroke-width="0.9" stroke-linejoin="round"/>
<path d="M377.89 375.46L380.19 375.46L380.19 377.01Q380.19 377.56 380.74 377.56L382.29 377.56L382.29 379.86L380.74 379.86Q380.19 379.86 380.19 380.41L380.19 381.96L377.89 381.96L377.89 380.41Q377.89 379.86 377.34 379.86L375.79 379.86L375.79 377.56L377.34 377.56Q377.89 377.56 377.89 377.01Z" fill="#fff" stroke="#1d17b8" stroke-width="0.9" stroke-linejoin="round"/>
<path d="M407.97 379.21L410.27 379.21L410.27 380.76Q410.27 381.31 410.82 381.31L412.37 381.31L412.37 383.61L410.82 383.61Q410.27 383.61 410.27 384.16L410.27 385.71L407.97 385.71L407.97 384.16Q407.97 383.61 407.42 383.61L405.87 383.61L405.87 381.31L407.42 381.31Q407.97 381.31 407.97 380.76Z" fill="#fff" stroke="#1d17b8" stroke-width="0.9" stroke-linejoin="round"/>
<path d="M430.53 375.46L432.83 375.46L432.83 377.01Q432.83 377.56 433.38 377.56L434.93 377.56L434.93 379.86L433.38 379.86Q432.83 379.86 432.83 380.41L432.83 381.96L430.53 381.96L430.53 380.41Q430.53 379.86 429.98 379.86L428.43 379.86L428.43 377.56L429.98 377.56Q430.53 377.56 430.53 377.01Z" fill="#fff" stroke="#1d17b8" stroke-width="0.9" stroke-linejoin="round"/>
<path d="M460.61 378.74L462.91 378.74L462.91 380.29Q462.91 380.84 463.46 380.84L465.01 380.84L465.01 383.14L463.46 383.14Q462.91 383.14 462.91 383.69L462.91 385.24L460.61 385.24L460.61 383.69Q460.61 383.14 460.06 383.14L458.51 383.14L458.51 380.84L460.06 380.84Q460.61 380.84 460.61 380.29Z" fill="#fff" stroke="#1d17b8" stroke-width="0.9" stroke-linejoin="round"/>
<path d="M483.17 376.39L485.47 376.39L485.47 377.94Q485.47 378.49 486.02 378.49L487.57 378.49L487.57 380.79L486.02 380.79Q485.47 380.79 485.47 381.34L485.47 382.89L483.17 382.89L483.17 381.34Q483.17 380.79 482.62 380.79L481.07 380.79L481.07 378.49L482.62 378.49Q483.17 378.49 483.17 377.94Z" fill="#fff" stroke="#1d17b8" stroke-width="0.9" stroke-linejoin="round"/>
<path d="M356.48 373.54V378.24" stroke="#2420b0" stroke-width="1" fill="none"/>
<path d="M355.08 373.54H357.88M355.08 378.24H357.88" stroke="#2420b0" stroke-width="1.3" fill="none"/>
<path d="M379.04 377.77V385.28" stroke="#2420b0" stroke-width="1" fill="none"/>
<path d="M377.64 377.77H380.44M377.64 385.28H380.44" stroke="#2420b0" stroke-width="1.3" fill="none"/>
<path d="M409.12 389.03V400.3" stroke="#2420b0" stroke-width="1" fill="none"/>
<path d="M407.72 389.03H410.52M407.72 400.3H410.52" stroke="#2420b0" stroke-width="1.3" fill="none"/>
<path d="M431.68 390.44V402.65" stroke="#2420b0" stroke-width="1" fill="none"/>
<path d="M430.28 390.44H433.08M430.28 402.65H433.08" stroke="#2420b0" stroke-width="1.3" fill="none"/>
<path d="M461.76 399.83V409.22" stroke="#2420b0" stroke-width="1" fill="none"/>
<path d="M460.36 399.83H463.16M460.36 409.22H463.16" stroke="#2420b0" stroke-width="1.3" fill="none"/>
<path d="M484.32 394.2V405.47" stroke="#2420b0" stroke-width="1" fill="none"/>
<path d="M482.92 394.2H485.72M482.92 405.47H485.72" stroke="#2420b0" stroke-width="1.3" fill="none"/>
<path d="M326.4 355.7L356.48 375.89L379.04 381.52L409.12 394.67L431.68 396.55L461.76 404.53L484.32 399.83" stroke="#1d17b8" stroke-width="1.6" fill="none" stroke-linejoin="round"/>
<rect x="324" y="353.3" width="4.8" height="4.8" fill="none" stroke="#1d17b8" stroke-width="0.9"/>
<rect x="354.08" y="373.49" width="4.8" height="4.8" fill="none" stroke="#1d17b8" stroke-width="0.9"/>
<rect x="376.64" y="379.12" width="4.8" height="4.8" fill="none" stroke="#1d17b8" stroke-width="0.9"/>
<rect x="406.72" y="392.27" width="4.8" height="4.8" fill="none" stroke="#1d17b8" stroke-width="0.9"/>
<rect x="429.28" y="394.15" width="4.8" height="4.8" fill="none" stroke="#1d17b8" stroke-width="0.9"/>
<rect x="459.36" y="402.13" width="4.8" height="4.8" fill="none" stroke="#1d17b8" stroke-width="0.9"/>
<rect x="481.92" y="397.43" width="4.8" height="4.8" fill="none" stroke="#1d17b8" stroke-width="0.9"/>
<path d="M356.48 374.48V379.18" stroke="#2420b0" stroke-width="1" fill="none"/>
<path d="M355.08 374.48H357.88M355.08 379.18H357.88" stroke="#2420b0" stroke-width="1.3" fill="none"/>
<path d="M379.04 379.18V386.69" stroke="#2420b0" stroke-width="1" fill="none"/>
<path d="M377.64 379.18H380.44M377.64 386.69H380.44" stroke="#2420b0" stroke-width="1.3" fill="none"/>
<path d="M409.12 401.71V411.1" stroke="#2420b0" stroke-width="1" fill="none"/>
<path d="M407.72 401.71H410.52M407.72 411.1H410.52" stroke="#2420b0" stroke-width="1.3" fill="none"/>
<path d="M431.68 403.12V415.33" stroke="#2420b0" stroke-width="1" fill="none"/>
<path d="M430.28 403.12H433.08M430.28 415.33H433.08" stroke="#2420b0" stroke-width="1.3" fill="none"/>
<path d="M461.76 402.18V411.57" stroke="#2420b0" stroke-width="1" fill="none"/>
<path d="M460.36 402.18H463.16M460.36 411.57H463.16" stroke="#2420b0" stroke-width="1.3" fill="none"/>
<path d="M484.32 396.08V407.35" stroke="#2420b0" stroke-width="1" fill="none"/>
<path d="M482.92 396.08H485.72M482.92 407.35H485.72" stroke="#2420b0" stroke-width="1.3" fill="none"/>
<path d="M326.4 355.7L356.48 376.83L379.04 382.93L409.12 406.41L431.68 409.22L461.76 406.88L484.32 401.71" stroke="#1d17b8" stroke-width="1.6" fill="none" stroke-linejoin="round"/>
<polygon points="324.2,352.7 329.4,357.9 324.2,357.9" fill="#1d17b8"/>
<polygon points="354.28,373.83 359.48,379.03 354.28,379.03" fill="#1d17b8"/>
<polygon points="376.84,379.93 382.04,385.13 376.84,385.13" fill="#1d17b8"/>
<polygon points="406.92,403.41 412.12,408.61 406.92,408.61" fill="#1d17b8"/>
<polygon points="429.48,406.22 434.68,411.42 429.48,411.42" fill="#1d17b8"/>
<polygon points="459.56,403.88 464.76,409.08 459.56,409.08" fill="#1d17b8"/>
<polygon points="482.12,398.71 487.32,403.91 482.12,403.91" fill="#1d17b8"/>
<path d="M356.48 351.47V355.23" stroke="#111" stroke-width="1" fill="none"/>
<path d="M355.08 351.47H357.88M355.08 355.23H357.88" stroke="#111" stroke-width="1.3" fill="none"/>
<path d="M379.04 347.25V351.94" stroke="#111" stroke-width="1" fill="none"/>
<path d="M377.64 347.25H380.44M377.64 351.94H380.44" stroke="#111" stroke-width="1.3" fill="none"/>
<path d="M409.12 334.57V345.84" stroke="#111" stroke-width="1" fill="none"/>
<path d="M407.72 334.57H410.52M407.72 345.84H410.52" stroke="#111" stroke-width="1.3" fill="none"/>
<path d="M326.4 355.7L356.48 353.35L379.04 349.6L409.12 340.21" stroke="#111" stroke-width="1.6" fill="none" stroke-linejoin="round"/>
<path d="M323.8 353.1L329 358.3M323.8 358.3L329 353.1" stroke="#111" stroke-width="1.2" fill="none"/>
<path d="M353.88 350.75L359.08 355.95M353.88 355.95L359.08 350.75" stroke="#111" stroke-width="1.2" fill="none"/>
<path d="M376.44 347L381.64 352.2M376.44 352.2L381.64 347" stroke="#111" stroke-width="1.2" fill="none"/>
<path d="M406.52 337.61L411.72 342.81M406.52 342.81L411.72 337.61" stroke="#111" stroke-width="1.2" fill="none"/>
<path d="M356.48 366.97V372.6" stroke="#111" stroke-width="1" fill="none"/>
<path d="M355.08 366.97H357.88M355.08 372.6H357.88" stroke="#111" stroke-width="1.3" fill="none"/>
<path d="M379.04 367.91V375.42" stroke="#111" stroke-width="1" fill="none"/>
<path d="M377.64 367.91H380.44M377.64 375.42H380.44" stroke="#111" stroke-width="1.3" fill="none"/>
<path d="M409.12 370.25V377.77" stroke="#111" stroke-width="1" fill="none"/>
<path d="M407.72 370.25H410.52M407.72 377.77H410.52" stroke="#111" stroke-width="1.3" fill="none"/>
<path d="M326.4 355.7L356.48 369.79L379.04 371.66L409.12 374.01" stroke="#111" stroke-width="1.6" fill="none" stroke-linejoin="round" stroke-dasharray="2.2 1.6"/>
<path d="M325.25 352.45L327.55 352.45L327.55 354Q327.55 354.55 328.1 354.55L329.65 354.55L329.65 356.85L328.1 356.85Q327.55 356.85 327.55 357.4L327.55 358.95L325.25 358.95L325.25 357.4Q325.25 356.85 324.7 356.85L323.15 356.85L323.15 354.55L324.7 354.55Q325.25 354.55 325.25 354Z" fill="#fff" stroke="#111" stroke-width="0.9" stroke-linejoin="round"/>
<path d="M355.33 366.54L357.63 366.54L357.63 368.09Q357.63 368.64 358.18 368.64L359.73 368.64L359.73 370.94L358.18 370.94Q357.63 370.94 357.63 371.49L357.63 373.04L355.33 373.04L355.33 371.49Q355.33 370.94 354.78 370.94L353.23 370.94L353.23 368.64L354.78 368.64Q355.33 368.64 355.33 368.09Z" fill="#fff" stroke="#111" stroke-width="0.9" stroke-linejoin="round"/>
<path d="M377.89 368.41L380.19 368.41L380.19 369.96Q380.19 370.51 380.74 370.51L382.29 370.51L382.29 372.81L380.74 372.81Q380.19 372.81 380.19 373.36L380.19 374.91L377.89 374.91L377.89 373.36Q377.89 372.81 377.34 372.81L375.79 372.81L375.79 370.51L377.34 370.51Q377.89 370.51 377.89 369.96Z" fill="#fff" stroke="#111" stroke-width="0.9" stroke-linejoin="round"/>
<path d="M407.97 370.76L410.27 370.76L410.27 372.31Q410.27 372.86 410.82 372.86L412.37 372.86L412.37 375.16L410.82 375.16Q410.27 375.16 410.27 375.71L410.27 377.26L407.97 377.26L407.97 375.71Q407.97 375.16 407.42 375.16L405.87 375.16L405.87 372.86L407.42 372.86Q407.97 372.86 407.97 372.31Z" fill="#fff" stroke="#111" stroke-width="0.9" stroke-linejoin="round"/>
<path d="M342.4 278.9H360" stroke="#111" stroke-width="1.25"/>
<path d="M348.6 276.3L353.8 281.5M348.6 281.5L353.8 276.3" stroke="#111" stroke-width="1.2" fill="none"/>
<text class="lg" x="362.5" y="280.3" font-size="6.3">Vehicle</text>
<path d="M342.4 285H360" stroke="#1d17b8" stroke-width="1.25"/>
<path d="M351.2 282.7L353.5 285L351.2 287.3L348.9 285Z" fill="#b8b8f0" stroke="#1d17b8" stroke-width="0.9"/>
<text class="lg" x="362.5" y="286.4" font-size="6.3">aLy6E cal-ADC, 0.3 mg/kg</text>
<path d="M342.4 291.1H360" stroke="#1d17b8" stroke-width="1.25"/>
<circle cx="351.2" cy="291.1" r="2.2" fill="#1d17b8"/>
<text class="lg" x="362.5" y="292.5" font-size="6.3">aLy6E cal-ADC, 1 mg/kg</text>
<path d="M342.4 297.2H360" stroke="#1d17b8" stroke-width="1.25"/>
<path d="M350.19 294.34L352.21 294.34L352.21 295.7Q352.21 296.19 352.7 296.19L354.06 296.19L354.06 298.21L352.7 298.21Q352.21 298.21 352.21 298.7L352.21 300.06L350.19 300.06L350.19 298.7Q350.19 298.21 349.7 298.21L348.34 298.21L348.34 296.19L349.7 296.19Q350.19 296.19 350.19 295.7Z" fill="#fff" stroke="#1d17b8" stroke-width="0.9" stroke-linejoin="round"/>
<text class="lg" x="362.5" y="298.6" font-size="6.3">aLy6E cal-ADC, 3 mg/kg</text>
<path d="M342.4 303.3H360" stroke="#1d17b8" stroke-width="1.25"/>
<rect x="348.8" y="300.9" width="4.8" height="4.8" fill="none" stroke="#1d17b8" stroke-width="0.9"/>
<text class="lg" x="362.5" y="304.7" font-size="6.3">aLy6E cal-ADC, 6 mg/kg</text>
<path d="M342.4 309.4H360" stroke="#1d17b8" stroke-width="1.25"/>
<polygon points="349,306.4 354.2,311.6 349,311.6" fill="#1d17b8"/>
<text class="lg" x="362.5" y="310.8" font-size="6.3">aLy6E cal-ADC, 10 mg/kg</text>
<path d="M342.4 315.5H360" stroke="#111" stroke-width="1.25" stroke-dasharray="2.2 1.6"/>
<path d="M350.19 312.64L352.21 312.64L352.21 314Q352.21 314.49 352.7 314.49L354.06 314.49L354.06 316.51L352.7 316.51Q352.21 316.51 352.21 317L352.21 318.36L350.19 318.36L350.19 317Q350.19 316.51 349.7 316.51L348.34 316.51L348.34 314.49L349.7 314.49Q350.19 314.49 350.19 314Z" fill="#fff" stroke="#111" stroke-width="0.9" stroke-linejoin="round"/>
<text class="lg" x="362.5" y="316.9" font-size="6.3">aCD22 cal-ADC, 3 mg/kg</text>
</svg>
</body></html>
